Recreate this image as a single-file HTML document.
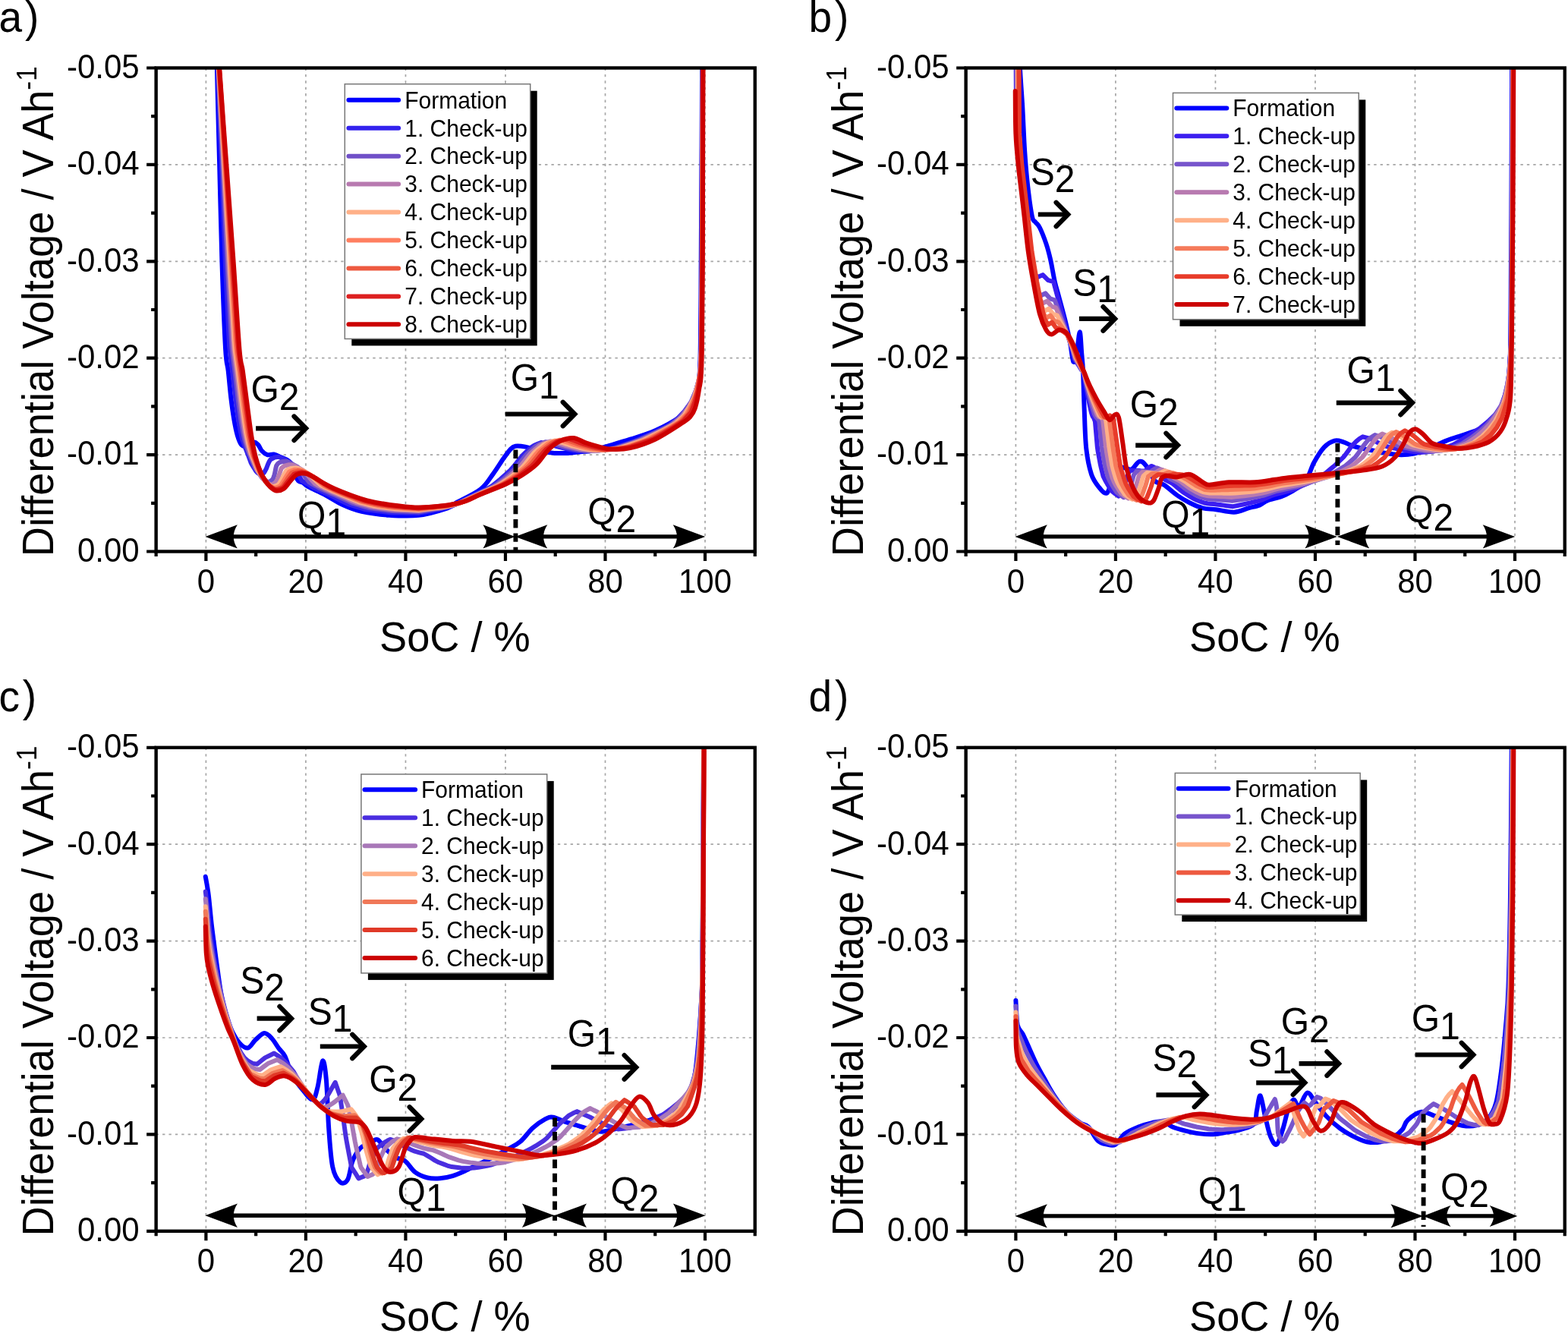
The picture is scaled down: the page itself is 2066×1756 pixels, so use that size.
<!DOCTYPE html>
<html><head><meta charset="utf-8"><title>Differential voltage analysis</title>
<style>html,body{margin:0;padding:0;background:#fff;width:2066px;height:1756px;overflow:hidden}svg{display:block}text{font-family:"Liberation Sans", Arial, Helvetica, sans-serif;fill:#000}</style></head><body>
<svg width="2066" height="1756" viewBox="0 0 2066 1756">
<rect width="2066" height="1756" fill="#fff"/>
<defs>
<clipPath id="clipa"><rect x="205.64" y="89.5" width="789.12" height="637"/></clipPath>
<clipPath id="clipb"><rect x="1272.64" y="89.5" width="789.12" height="637"/></clipPath>
<clipPath id="clipc"><rect x="205.64" y="984.8" width="789.12" height="637"/></clipPath>
<clipPath id="clipd"><rect x="1272.64" y="984.8" width="789.12" height="637"/></clipPath>
</defs>
<path d="M271.4,89.5 V726.5 M402.92,89.5 V726.5 M534.44,89.5 V726.5 M665.96,89.5 V726.5 M797.48,89.5 V726.5 M929,89.5 V726.5 M205.64,599.1 H994.76 M205.64,471.7 H994.76 M205.64,344.3 H994.76 M205.64,216.9 H994.76" stroke="#a6a6a6" stroke-width="1.7" stroke-dasharray="3.4 5" fill="none"/>
<g clip-path="url(#clipa)" fill="none" stroke-width="6" stroke-linejoin="round" stroke-linecap="round">
<path d="M285.87,64.02 C285.87,68.27 285.32,64.02 285.87,89.5 C286.42,114.98 288.06,174.43 289.16,216.9 C290.25,259.37 291.13,303.96 292.44,344.3 C293.76,384.64 295.68,434.97 297.05,458.96 C298.42,482.95 299.46,477.43 300.66,488.26 C301.87,499.09 303.02,513.32 304.28,523.93 C305.54,534.55 306.8,543.68 308.23,551.96 C309.65,560.24 311.13,567.89 312.83,573.62 C314.53,579.35 316.34,584.02 318.42,586.36 C320.5,588.7 322.64,588.27 325.32,587.63 C328.01,587 332.01,582.75 334.53,582.54 C337.05,582.33 338.69,584.45 340.45,586.36 C342.2,588.27 343.08,591.88 345.05,594 C347.02,596.13 349.65,598.36 352.28,599.1 C354.92,599.84 357.87,597.93 360.83,598.46 C363.79,598.99 366.64,600.69 370.04,602.28 C373.44,603.88 378.15,604.3 381.22,608.02 C384.29,611.73 386.48,620.33 388.45,624.58 C390.43,628.83 391.19,631.59 393.06,633.5 C394.92,635.41 397.44,634.77 399.63,636.05 C401.82,637.32 401.39,638.49 406.21,641.14 C411.03,643.8 420.89,647.94 428.57,651.97 C436.24,656.01 444.24,661.7 452.24,665.35 C460.24,669 466.49,671.65 476.57,673.88 C486.65,676.11 500.24,677.9 512.74,678.73 C525.23,679.55 538.71,680.42 551.54,678.85 C564.36,677.28 581.57,671.97 589.68,669.3 C597.79,666.62 592.97,666.92 600.2,662.8 C607.43,658.68 624.86,650.95 633.08,644.58 C641.3,638.21 644.59,631.16 649.52,624.58 C654.45,618 658.84,610.54 662.67,605.09 C666.51,599.63 669.8,594.73 672.54,591.84 C675.28,588.95 675.82,588.29 679.11,587.76 C682.4,587.23 687.88,587.89 692.26,588.65 C696.65,589.42 700.05,591.1 705.42,592.35 C710.79,593.6 720.1,595.41 724.49,596.17 C728.87,596.93 727.77,596.81 731.72,596.93 C735.67,597.06 742.68,597.21 748.16,596.93 C753.64,596.66 759.12,595.83 764.6,595.28 C770.08,594.73 775.56,594.73 781.04,593.62 C786.52,592.52 789.26,591.14 797.48,588.65 C805.7,586.17 819.4,582.28 830.36,578.72 C841.32,575.15 852.28,572.18 863.24,567.25 C874.2,562.32 888.45,554.36 896.12,549.16 C903.79,543.96 905.44,542.09 909.27,536.04 C913.11,529.99 916.94,522.19 919.14,512.85 C921.33,503.51 921.66,508.07 922.42,479.98 C923.19,451.89 923.3,409.38 923.74,344.3 C924.18,279.22 924.78,136.21 925.05,89.5 C925.33,42.79 925.33,68.27 925.38,64.02" stroke="#0000FF"/>
<path d="M286.6,64.02 286.7,77.59 286.86,91.16 287.39,104.72 287.92,118.28 288.45,131.84 288.98,145.4 289.51,158.96 290.04,172.52 290.57,186.08 291.1,199.65 291.63,213.21 292.16,226.77 292.69,240.33 293.22,253.89 293.75,267.45 294.28,281.01 294.81,294.57 295.34,308.13 295.87,321.69 296.4,335.25 296.94,348.81 297.59,362.37 298.24,375.92 298.9,389.48 299.55,403.04 300.2,416.59 300.85,430.15 301.51,443.71 302.28,457.25 303.78,470.73 305.53,484.19 307.13,497.66 308.62,511.16 310.1,524.65 311.89,538.1 313.76,551.54 316.11,564.9 318.94,578.17 323.59,590.85 324.89,594.11 326.12,597.3 327.29,600.42 328.42,603.49 329.52,606.51 330.6,609.48 332.09,612.22 333.7,614.87 335.32,617.53 336.96,620.22 338.99,622.58 341.84,624.22 344.77,625.95 346.54,624.11 348.19,622.18 349.54,619.89 350.77,617.54 351.74,615.09 352.67,612.69 353.59,610.34 354.92,607.71 356.46,605.27 361.88,602.48 367.07,601.79 372.4,604.04 377.62,606.59 382.8,609.29 386.66,613.25 389.29,618.37 391.97,623.44 394.82,628.43 397.86,633.3 402.69,636.18 407.83,638.94 412.67,642.2 418.01,644.64 423.34,647.07 428.65,649.48 433.95,651.85 439.12,654.43 444.26,657.02 449.37,659.59 454.47,662.13 459.62,664.47 465.04,666.13 470.43,667.77 475.8,669.39 481.14,671.01 486.63,671.86 492.13,672.54 497.61,673.2 503.06,673.87 508.49,674.53 513.89,675.16 519.3,675.43 524.71,675.5 530.1,675.57 535.47,675.66 540.83,675.75 546.19,675.85 551.54,675.96 556.11,675.1 560.68,674.22 565.26,673.35 569.85,672.47 574.46,671.59 579.07,670.71 583.69,669.7 588.3,668.58 592.94,667.46 597.39,665.85 601.67,663.75 605.91,661.44 610.22,659.2 614.58,657 618.99,654.85 623.42,652.71 627.88,650.56 632.37,648.42 636.88,646.27 641.41,644.11 645.89,641.78 649.96,638.92 653.82,635.79 657.72,632.66 661.5,629.33 665.26,625.93 669.03,622.53 672.72,619.07 676.08,615.28 679.27,611.3 682.45,607.32 685.61,603.34 688.87,599.46 692.56,596.04 696.24,592.63 699.9,589.24 703.88,586.66 708.4,584.8 712.97,583.05 716.05,583.62 719.14,584.2 722.22,584.77 725.29,585.47 728.3,586.45 731.32,587.43 734.35,588.38 737.42,589.17 740.51,589.89 743.6,590.61 746.69,591.33 749.78,592.05 752.87,592.75 756,593.23 759.15,593.65 762.3,593.89 765.45,594.12 768.6,594.35 771.76,594.58 789.38,593.31 805.25,591.22 820.51,586.3 835.69,581.22 850.33,575.06 864.85,568.57 879.13,561.73 891.57,552.47 901.77,541.76 910.52,529.64 916.58,515.57 921.04,500.39 922.24,484.48 923.28,468.53 923.45,452.52 923.6,436.49 923.74,420.46 923.88,404.41 924.03,388.36 924.17,372.28 924.31,356.19 924.42,340.09 924.48,323.96 924.54,307.82 924.6,291.67 924.66,275.5 924.72,259.31 924.79,243.1 924.85,226.88 924.91,210.64 924.98,194.39 925.05,178.13 925.11,161.85 925.18,145.56 925.25,129.27 925.32,112.96 925.39,96.65 925.52,80.34 925.7,64.02" stroke="#3322EE"/>
<path d="M287.05,64.02 287.21,77.66 287.44,91.3 288.08,104.93 288.72,118.55 289.36,132.18 290,145.8 290.64,159.43 291.29,173.05 291.93,186.68 292.57,200.3 293.21,213.93 293.85,227.55 294.49,241.18 295.13,254.8 295.77,268.43 296.41,282.05 297.05,295.68 297.69,309.3 298.34,322.93 298.98,336.56 299.62,350.18 300.34,363.81 301.06,377.43 301.78,391.05 302.5,404.68 303.22,418.3 303.94,431.92 304.66,445.55 305.58,459.15 307.22,472.68 309.04,486.2 310.69,499.74 312.25,513.3 313.82,526.85 315.62,540.37 317.49,553.89 319.74,567.34 322.54,580.68 326.73,593.58 328.11,597.04 329.06,599.37 330.03,601.73 331.02,604.11 332.02,606.51 333.04,608.93 334.07,611.37 335.11,613.82 336.2,616.26 337.72,618.49 339.24,620.72 340.75,622.95 342.27,625.18 343.78,627.4 345.27,629.6 347.2,631.33 349.39,632.74 351.56,634.13 353.69,635.49 355.94,634.21 358.59,632.23 360.03,630.13 360.97,627.5 361.76,624.87 362.33,622.22 362.84,619.67 363.47,616.42 364.21,613.48 365.94,611.07 367.82,609.36 372.57,607.99 377.4,607.86 382.32,609.99 387.11,612.43 391.87,614.97 395.63,618.48 398.47,622.84 401.37,627.13 404.4,631.35 407.57,635.49 412.11,638.09 416.91,640.54 421.49,643.38 426.44,645.59 431.38,647.8 436.31,649.99 441.25,652.12 446.09,654.38 450.91,656.65 455.71,658.91 460.5,661.15 465.34,663.23 470.4,664.69 475.45,666.13 480.47,667.56 485.48,668.98 490.6,669.82 495.74,670.5 500.87,671.14 505.97,671.78 511.06,672.43 516.13,673 521.22,673.29 526.29,673.43 531.36,673.57 536.41,673.72 541.46,673.88 546.5,674.04 551.54,674.21 556.42,673.44 561.31,672.66 566.2,671.88 571.09,671.11 575.99,670.33 580.89,669.55 585.78,668.57 590.64,667.43 595.52,666.28 600.24,664.76 604.79,662.73 609.25,660.41 613.75,658.14 618.28,655.9 622.85,653.74 627.45,651.6 632.06,649.45 636.67,647.31 641.3,645.16 645.94,643.01 650.48,640.63 654.67,637.8 658.69,634.74 662.72,631.68 666.59,628.37 670.42,624.97 674.25,621.57 678.01,618.12 681.39,614.28 684.57,610.23 687.74,606.18 690.9,602.13 694.19,598.2 697.97,594.8 701.76,591.42 705.54,588.03 709.71,585.61 714.39,583.86 719.12,582.2 722.12,582.83 725.11,583.46 728.11,584.09 731.09,584.84 734.02,585.82 736.96,586.8 739.91,587.74 742.9,588.52 745.92,589.24 748.93,589.97 751.94,590.69 754.95,591.41 757.97,592.12 761.02,592.62 764.08,593.06 767.15,593.33 770.23,593.6 773.3,593.88 776.37,594.15 793.87,592.95 809.65,590.8 824.85,585.84 839.96,580.71 854.45,574.28 868.84,567.56 882.93,560.4 895.01,550.75 904.37,539.39 912.25,526.73 917.6,512.39 921.59,497.12 922.63,481.22 923.53,465.29 923.7,449.31 923.85,433.33 924,417.34 924.15,401.35 924.3,385.35 924.45,369.35 924.59,353.34 924.69,337.32 924.76,321.3 924.81,305.26 924.87,289.22 924.93,273.18 924.99,257.12 925.05,241.06 925.12,224.99 925.18,208.92 925.24,192.83 925.3,176.75 925.36,160.65 925.43,144.56 925.49,128.45 925.55,112.35 925.62,96.24 925.73,80.13 925.89,64.02" stroke="#7050C8"/>
<path d="M287.37,64.02 287.57,77.71 287.85,91.4 288.57,105.07 289.29,118.74 290.01,132.41 290.73,146.08 291.45,159.75 292.16,173.43 292.88,187.1 293.6,200.77 294.32,214.44 295.04,228.11 295.76,241.78 296.48,255.45 297.2,269.12 297.92,282.79 298.64,296.46 299.36,310.14 300.08,323.81 300.8,337.48 301.5,351.15 302.27,364.82 303.04,378.49 303.81,392.16 304.58,405.83 305.35,419.5 306.12,433.17 306.89,446.85 307.9,460.49 309.65,474.06 311.51,487.62 313.2,501.21 314.82,514.81 316.44,528.4 318.26,541.98 320.12,555.54 322.3,569.05 325.09,582.46 328.95,595.51 329.87,597.87 330.82,600.26 331.79,602.68 332.8,605.13 333.82,607.61 334.86,610.11 335.91,612.63 336.98,615.17 338.05,617.73 339.44,620.14 341.04,622.45 342.64,624.76 344.24,627.07 345.83,629.37 347.41,631.66 349.11,633.78 351.36,635.3 353.6,636.77 355.81,638.21 358.66,638.13 361.15,636.81 363.43,635.35 364.91,632.84 366.1,630.08 367.15,627.32 368.05,624.58 368.95,621.97 369.83,619.44 370.72,617 372.67,615.14 374.99,613.59 380.83,612.25 385.38,612.55 389.97,614.58 394.43,616.93 398.86,619.35 402.54,622.5 405.53,626.29 408.58,629.96 411.73,633.59 414.99,637.15 419.29,639.54 423.82,641.76 428.17,644.27 432.81,646.31 437.44,648.35 442.07,650.37 446.71,652.32 451.3,654.35 455.86,656.38 460.42,658.41 464.96,660.42 469.55,662.32 474.33,663.64 479.11,664.93 483.88,666.22 488.64,667.5 493.48,668.34 498.35,669.02 503.21,669.65 508.06,670.29 512.9,670.92 517.73,671.46 522.58,671.77 527.42,671.96 532.25,672.15 537.08,672.35 541.9,672.55 546.72,672.76 551.54,672.97 556.64,672.26 561.75,671.56 566.86,670.85 571.97,670.14 577.08,669.43 582.2,668.72 587.28,667.76 592.33,666.59 597.39,665.42 602.32,663.96 607.08,661.99 611.71,659.65 616.38,657.35 621.07,655.08 625.8,652.9 630.55,650.75 635.3,648.59 640.06,646.44 644.82,644.28 649.59,642.13 654.22,639.69 658.57,636.87 662.77,633.86 666.97,630.86 670.98,627.55 674.93,624.13 678.88,620.72 682.77,617.26 686.25,613.38 689.48,609.24 692.71,605.11 695.94,600.97 699.31,596.99 703.24,593.6 707.18,590.22 711.11,586.85 715.52,584.58 720.37,582.92 725.28,581.34 728.18,582.03 731.09,582.72 733.99,583.41 736.88,584.2 739.74,585.18 742.6,586.16 745.47,587.1 748.39,587.88 751.32,588.6 754.26,589.33 757.19,590.05 760.12,590.78 763.06,591.49 766.03,592.01 769.02,592.46 772.01,592.78 775,593.09 778,593.41 780.99,593.72 798.36,592.6 814.03,590.37 829.14,585.4 844.15,580.21 858.45,573.52 872.67,566.58 886.56,559.14 898.24,549.13 906.77,537.19 913.83,524.08 918.52,509.53 922.07,494.21 922.98,478.37 923.74,462.5 923.91,446.59 924.06,430.68 924.22,414.77 924.37,398.86 924.52,382.94 924.67,367.02 924.81,351.1 924.9,335.17 924.96,319.25 925.02,303.31 925.08,287.38 925.14,271.44 925.19,255.5 925.25,239.56 925.31,223.61 925.37,207.66 925.43,191.71 925.48,175.75 925.54,159.8 925.6,143.84 925.66,127.87 925.72,111.91 925.78,95.95 925.88,79.98 926.02,64.02" stroke="#B87AB0"/>
<path d="M287.63,64.02 287.87,77.75 288.19,91.48 288.98,105.19 289.76,118.9 290.54,132.61 291.33,146.32 292.11,160.03 292.9,173.74 293.68,187.45 294.47,201.15 295.25,214.86 296.04,228.57 296.82,242.28 297.6,255.99 298.39,269.7 299.17,283.41 299.96,297.12 300.74,310.83 301.53,324.54 302.31,338.25 303.08,351.96 303.89,365.67 304.7,379.38 305.51,393.09 306.31,406.8 307.12,420.51 307.93,434.22 308.74,447.93 309.84,461.6 311.68,475.21 313.58,488.81 315.3,502.44 316.96,516.07 318.63,529.7 320.45,543.31 322.31,556.92 324.44,570.48 327.2,583.93 330.8,597.12 331.72,599.53 332.68,601.98 333.67,604.46 334.68,606.97 335.72,609.51 336.77,612.08 337.84,614.67 338.93,617.28 340.02,619.91 341.45,622.38 343.1,624.74 344.76,627.11 346.41,629.47 348.06,631.82 349.69,634.16 351.47,636.31 353.77,637.88 356.06,639.4 358.31,640.88 361.37,640.86 364.2,639.65 366.88,638.34 368.71,635.83 370.27,633.05 371.72,630.27 373.09,627.51 374.49,624.89 375.88,622.32 377.28,619.81 380.06,618.23 383.17,616.99 389.09,616.52 393.35,617.23 397.62,619.16 401.73,621.41 405.82,623.71 409.39,626.49 412.51,629.69 415.7,632.75 418.94,635.79 422.26,638.79 426.3,640.96 430.52,642.94 434.63,645.14 438.94,647 443.24,648.87 447.55,650.74 451.88,652.51 456.19,654.31 460.49,656.13 464.78,657.94 469.08,659.75 473.4,661.48 477.91,662.68 482.42,663.85 486.93,665.02 491.44,666.19 496.02,667.04 500.63,667.72 505.25,668.36 509.86,668.99 514.47,669.63 519.1,670.14 523.73,670.48 528.37,670.72 533,670.96 537.64,671.2 542.27,671.45 546.91,671.69 551.54,671.94 556.83,671.29 562.12,670.63 567.41,669.98 572.71,669.33 578,668.67 583.29,668.02 588.54,667.08 593.76,665.89 598.98,664.7 604.1,663.28 609.04,661.35 613.84,658.99 618.66,656.66 623.49,654.36 628.38,652.16 633.27,649.99 638.17,647.83 643.07,645.66 647.97,643.49 652.88,641.33 657.63,638.84 662.14,636.02 666.53,633.05 670.92,630.09 675.09,626.78 679.18,623.34 683.27,619.9 687.32,616.44 690.92,612.51 694.23,608.29 697.55,604.07 700.87,599.85 704.35,595.8 708.45,592.42 712.56,589.04 716.67,585.66 721.31,583.54 726.35,581.98 731.43,580.48 734.25,581.23 737.06,581.99 739.88,582.74 742.68,583.56 745.46,584.55 748.23,585.53 751.03,586.46 753.87,587.23 756.73,587.96 759.58,588.69 762.44,589.42 765.29,590.14 768.15,590.86 771.04,591.4 773.95,591.87 776.87,592.22 779.78,592.58 782.69,592.93 785.61,593.29 802.84,592.24 818.41,589.95 833.42,584.95 848.32,579.71 862.42,572.77 876.45,565.62 890.1,557.91 901.38,547.56 909.1,535.06 915.35,521.53 919.4,506.8 922.54,491.45 923.3,475.68 923.94,459.88 924.11,444.06 924.26,428.24 924.41,412.41 924.57,396.58 924.72,380.76 924.87,364.93 925.01,349.1 925.09,333.27 925.15,317.44 925.2,301.61 925.26,285.78 925.31,269.94 925.37,254.11 925.42,238.27 925.48,222.43 925.53,206.59 925.58,190.76 925.64,174.92 925.69,159.07 925.75,143.23 925.8,127.39 925.86,111.55 925.91,95.71 926.01,79.86 926.13,64.02" stroke="#FFB088"/>
<path d="M287.87,64.02 288.14,77.79 288.5,91.55 289.34,105.3 290.18,119.04 291.03,132.78 291.87,146.53 292.71,160.27 293.56,174.02 294.4,187.76 295.24,201.5 296.09,215.25 296.93,228.99 297.77,242.73 298.62,256.48 299.46,270.22 300.3,283.96 301.15,297.71 301.99,311.45 302.83,325.2 303.68,338.94 304.49,352.68 305.34,366.43 306.18,380.18 307.03,393.92 307.88,407.67 308.72,421.41 309.57,435.16 310.41,448.9 311.59,462.61 313.5,476.24 315.44,489.88 317.18,503.54 318.89,517.2 320.6,530.87 322.43,544.52 324.28,558.16 326.36,571.77 329.11,585.26 332.46,598.56 333.38,601.02 334.34,603.51 335.31,606.02 336.31,608.57 337.33,611.13 338.37,613.72 339.42,616.33 340.48,618.96 341.54,621.6 342.96,624.07 344.62,626.43 346.27,628.79 347.93,631.14 349.58,633.49 351.22,635.83 353.02,637.97 355.33,639.54 357.63,641.08 359.9,642.58 363.1,642.6 366.13,641.45 369.05,640.21 371.07,637.69 372.84,634.88 374.52,632.07 376.14,629.29 377.82,626.64 379.49,624.03 381.17,621.48 383.57,620.34 386.18,619.51 388.91,618.74 393.95,619.02 398.05,619.99 402.13,621.87 406.06,624.07 409.97,626.3 413.51,628.88 416.72,631.75 420.03,634.46 423.38,637.14 426.77,639.8 430.69,641.85 434.78,643.69 438.78,645.69 442.92,647.46 447.06,649.22 451.21,650.98 455.39,652.64 459.55,654.29 463.72,655.95 467.88,657.61 472.04,659.27 476.23,660.87 480.58,661.96 484.93,663.03 489.29,664.1 493.64,665.17 498.05,666 502.48,666.68 506.92,667.3 511.37,667.92 515.81,668.53 520.27,669.02 524.73,669.36 529.2,669.63 533.67,669.91 538.14,670.18 542.6,670.46 547.07,670.73 551.54,671.01 557,670.41 562.45,669.8 567.91,669.2 573.37,668.6 578.83,667.99 584.28,667.39 589.69,666.46 595.06,665.25 600.43,664.03 605.72,662.65 610.84,660.77 615.79,658.39 620.76,656.03 625.74,653.69 630.77,651.48 635.81,649.3 640.86,647.11 645.9,644.93 650.95,642.75 655.99,640.57 660.87,638.03 665.54,635.21 670.13,632.28 674.72,629.35 679.05,626.03 683.3,622.57 687.55,619.12 691.77,615.63 695.49,611.65 698.91,607.34 702.33,603.04 705.75,598.73 709.35,594.62 713.63,591.23 717.92,587.86 722.21,584.48 727.1,582.5 732.32,581.05 737.59,579.63 740.31,580.44 743.04,581.25 745.76,582.06 748.48,582.93 751.18,583.91 753.87,584.9 756.59,585.82 759.36,586.59 762.14,587.32 764.91,588.05 767.69,588.78 770.47,589.51 773.24,590.23 776.06,590.79 778.89,591.27 781.72,591.67 784.56,592.07 787.39,592.46 790.22,592.86 807.33,591.88 822.78,589.53 837.68,584.51 852.47,579.22 866.36,572.02 880.2,564.67 893.61,556.69 904.48,546.01 911.39,532.97 916.84,519.02 920.25,504.12 922.99,488.77 923.62,473.07 924.13,457.36 924.3,441.63 924.45,425.89 924.6,410.16 924.75,394.43 924.91,378.69 925.06,362.96 925.2,347.23 925.27,331.49 925.32,315.76 925.37,300.03 925.42,284.29 925.47,268.56 925.52,252.82 925.58,237.09 925.63,221.36 925.68,205.62 925.73,189.89 925.78,174.16 925.83,158.42 925.88,142.69 925.93,126.95 925.98,111.22 926.03,95.49 926.12,79.75 926.23,64.02" stroke="#FF7F60"/>
<path d="M288.08,64.02 288.38,77.82 288.77,91.62 289.67,105.39 290.56,119.17 291.46,132.94 292.35,146.72 293.25,160.49 294.14,174.26 295.04,188.04 295.93,201.81 296.83,215.59 297.73,229.36 298.62,243.13 299.52,256.91 300.41,270.68 301.31,284.46 302.2,298.23 303.1,312.01 303.99,325.78 304.89,339.55 305.75,353.33 306.63,367.11 307.51,380.88 308.39,394.66 309.26,408.44 310.14,422.21 311.02,435.99 311.9,449.77 313.14,463.5 315.12,477.16 317.09,490.82 318.85,504.51 320.6,518.21 322.35,531.9 324.18,545.58 326.03,559.26 328.07,572.91 330.8,586.44 333.94,599.84 334.86,602.34 335.81,604.87 336.78,607.41 337.76,609.98 338.77,612.57 339.78,615.17 340.81,617.79 341.84,620.43 342.88,623.08 344.29,625.55 345.94,627.9 347.59,630.25 349.25,632.6 350.9,634.94 352.54,637.27 354.35,639.4 356.67,640.97 358.98,642.52 361.26,644.03 364.57,644.09 367.78,642.98 370.89,641.8 373.07,639.26 374.98,636.41 376.84,633.56 378.65,630.75 380.54,628.07 382.42,625.43 384.31,622.82 386.98,621.77 389.86,621.05 392.85,620.37 397.84,621.03 401.81,622.21 405.76,624.04 409.53,626.2 413.3,628.39 416.82,630.81 420.13,633.41 423.54,635.83 426.97,638.24 430.44,640.63 434.28,642.57 438.26,644.31 442.18,646.15 446.2,647.83 450.22,649.51 454.24,651.19 458.31,652.75 462.37,654.27 466.43,655.8 470.49,657.33 474.55,658.86 478.63,660.35 482.85,661.35 487.08,662.33 491.31,663.3 495.54,664.28 499.8,665.09 504.09,665.77 508.39,666.37 512.69,666.97 516.98,667.57 521.29,668.02 525.61,668.37 529.94,668.67 534.26,668.97 538.58,669.28 542.9,669.58 547.22,669.88 551.54,670.18 557.14,669.62 562.75,669.06 568.35,668.5 573.96,667.94 579.57,667.38 585.17,666.83 590.72,665.9 596.23,664.67 601.73,663.44 607.19,662.09 612.47,660.24 617.57,657.84 622.68,655.45 627.8,653.08 632.97,650.85 638.17,648.65 643.36,646.45 648.55,644.25 653.74,642.05 658.93,639.85 663.93,637.26 668.78,634.43 673.57,631.54 678.37,628.64 682.88,625.31 687.3,621.83 691.71,618.35 696.11,614.85 699.98,610.81 703.51,606.42 707.04,602.02 710.58,597.62 714.31,593.45 718.78,590.06 723.26,586.68 727.74,583.3 732.88,581.47 738.3,580.11 743.74,578.77 746.38,579.64 749.01,580.51 751.65,581.38 754.28,582.29 756.89,583.28 759.51,584.26 762.15,585.19 764.84,585.94 767.54,586.67 770.24,587.41 772.94,588.14 775.64,588.87 778.34,589.6 781.07,590.18 783.82,590.67 786.58,591.11 789.33,591.55 792.09,591.99 794.84,592.43 811.81,591.53 827.14,589.1 841.94,584.06 856.6,578.72 870.27,571.27 883.91,563.73 897.09,555.48 907.54,544.48 913.64,530.91 918.31,516.57 921.09,501.52 923.43,486.16 923.93,470.55 924.32,454.92 924.48,439.29 924.63,423.65 924.78,408.02 924.93,392.38 925.08,376.75 925.23,361.11 925.37,345.47 925.43,329.84 925.48,314.2 925.53,298.57 925.57,282.93 925.62,267.29 925.67,251.66 925.72,236.02 925.76,220.38 925.81,204.75 925.86,189.11 925.9,173.47 925.95,157.84 926,142.2 926.05,126.57 926.09,110.93 926.14,95.29 926.22,79.66 926.32,64.02" stroke="#EE5A40"/>
<path d="M288.29,64.02 288.62,77.85 289.04,91.68 289.99,105.49 290.94,119.29 291.89,133.1 292.83,146.9 293.78,160.71 294.73,174.51 295.68,188.32 296.63,202.12 297.57,215.93 298.52,229.73 299.47,243.54 300.42,257.34 301.36,271.15 302.31,284.95 303.26,298.76 304.21,312.56 305.15,326.36 306.1,340.17 307.01,353.98 307.92,367.78 308.83,381.59 309.74,395.4 310.65,409.21 311.56,423.02 312.47,436.82 313.38,450.63 314.69,464.4 316.74,478.08 318.74,491.77 320.53,505.49 322.31,519.22 324.09,532.94 325.94,546.65 327.79,560.37 329.78,574.06 332.5,587.63 335.42,601.13 336.34,603.67 337.27,606.22 338.22,608.78 339.17,611.35 340.14,613.94 341.11,616.54 342.09,619.14 343.07,621.76 344.05,624.38 345.42,626.81 347.03,629.11 348.65,631.42 350.27,633.72 351.88,636.02 353.49,638.32 355.29,640.4 357.59,641.95 359.89,643.49 362.17,645.01 365.57,645.09 368.92,644.04 372.23,642.96 374.62,640.48 376.77,637.68 378.89,634.89 381,632.12 383.22,629.48 385.44,626.86 387.66,624.26 390.71,623.34 393.96,622.76 397.27,622.21 402.21,623.29 406.05,624.69 409.82,626.48 413.43,628.6 417.03,630.73 420.52,632.97 423.92,635.26 427.43,637.36 430.95,639.45 434.49,641.54 438.22,643.37 442.08,644.98 445.9,646.64 449.78,648.23 453.65,649.82 457.52,651.4 461.44,652.86 465.38,654.25 469.32,655.64 473.26,657.03 477.2,658.43 481.15,659.8 485.23,660.71 489.32,661.6 493.41,662.48 497.5,663.36 501.6,664.17 505.74,664.83 509.88,665.42 514.03,666.01 518.17,666.6 522.33,667.02 526.51,667.38 530.68,667.71 534.85,668.04 539.02,668.37 543.19,668.7 547.37,669.03 551.54,669.36 557.29,668.84 563.04,668.33 568.8,667.81 574.55,667.29 580.31,666.78 586.06,666.26 591.75,665.35 597.4,664.09 603.04,662.84 608.66,661.53 614.1,659.7 619.35,657.29 624.61,654.87 629.86,652.47 635.18,650.21 640.52,648 645.86,645.78 651.19,643.57 656.53,641.36 661.87,639.14 667,636.49 672.02,633.66 677.02,630.8 682.01,627.93 686.7,624.59 691.29,621.09 695.87,617.58 700.45,614.07 704.47,609.97 708.11,605.49 711.76,601 715.4,596.52 719.27,592.27 723.93,588.89 728.6,585.5 733.27,582.12 738.66,580.43 744.27,579.17 749.9,577.92 752.44,578.85 754.99,579.78 757.53,580.71 760.08,581.65 762.61,582.64 765.15,583.63 767.71,584.55 770.33,585.29 772.95,586.03 775.57,586.77 778.19,587.5 780.81,588.24 783.43,588.97 786.08,589.57 788.76,590.08 791.43,590.56 794.11,591.04 796.78,591.52 799.46,592 816.3,591.17 831.51,588.68 846.2,583.62 860.74,578.23 874.19,570.53 887.63,562.78 900.56,554.27 910.61,542.94 915.89,528.85 919.77,514.12 921.93,498.91 923.86,483.55 924.23,468.02 924.5,452.49 924.66,436.95 924.81,421.41 924.96,405.88 925.11,390.34 925.26,374.8 925.41,359.26 925.54,343.72 925.59,328.18 925.64,312.64 925.68,297.11 925.73,281.57 925.77,266.03 925.81,250.49 925.86,234.95 925.9,219.41 925.94,203.87 925.99,188.33 926.03,172.79 926.07,157.25 926.12,141.71 926.16,126.18 926.2,110.64 926.25,95.1 926.32,79.56 926.41,64.02" stroke="#DD2020"/>
<path d="M288.5,64.02 C288.61,68.27 287.51,64.02 289.16,89.5 C290.8,114.98 295.29,174.43 298.36,216.9 C301.43,259.37 304.72,303.74 307.57,344.3 C310.42,384.86 313.42,436.24 315.46,460.23 C317.5,484.23 318.12,476.37 319.8,488.26 C321.48,500.15 323.62,517.35 325.52,531.58 C327.42,545.8 329.28,561.81 331.18,573.62 C333.07,585.43 334.51,593.58 336.9,602.41 C339.29,611.25 342.43,620.23 345.51,626.62 C348.59,633.01 352.3,637.45 355.38,640.76 C358.46,644.07 360.9,646 363.99,646.49 C367.08,646.98 370.83,645.81 373.92,643.69 C377.01,641.57 379.68,636.85 382.53,633.75 C385.38,630.65 387.71,626.77 391.02,625.09 C394.33,623.41 398.83,623.2 402.39,623.69 C405.96,624.18 408.36,625.88 412.39,628.02 C416.42,630.16 421.86,633.94 426.59,636.56 C431.33,639.17 434.88,641.08 440.8,643.69 C446.72,646.3 454.94,649.61 462.1,652.23 C469.27,654.84 476.68,657.47 483.8,659.36 C490.93,661.25 498.82,662.5 504.85,663.56 C510.88,664.63 512.19,664.9 519.97,665.73 C527.75,666.56 539.92,668.58 551.54,668.53 C563.16,668.49 579.38,666.86 589.68,665.48 C599.98,664.1 606.12,662.61 613.35,660.25 C620.59,657.9 624.31,655.05 633.08,651.33 C641.85,647.62 656.97,642.1 665.96,637.96 C674.95,633.82 680.21,630.84 687,626.49 C693.8,622.14 700.7,617.62 706.73,611.84 C712.76,606.06 717.69,597.08 723.17,591.84 C728.65,586.59 734.13,582.84 739.61,580.37 C745.09,577.91 750.57,576.51 756.05,577.06 C761.53,577.61 766.9,581.75 772.49,583.68 C778.08,585.62 784.11,587.29 789.59,588.65 C795.07,590.01 798.58,591.58 805.37,591.84 C812.17,592.09 820.72,592.37 830.36,590.18 C840,587.99 852.28,583.92 863.24,578.72 C874.2,573.51 888.45,563.9 896.12,558.97 C903.79,554.04 905.98,552.73 909.27,549.16 C912.56,545.59 913.88,543.62 915.85,537.57 C917.82,531.51 919.68,522.45 921.11,512.85 C922.53,503.25 923.63,508.07 924.4,479.98 C925.16,451.89 925.38,409.38 925.71,344.3 C926.04,279.22 926.24,136.21 926.37,89.5 C926.5,42.79 926.48,68.27 926.5,64.02" stroke="#CC0000"/>
</g>
<rect x="463.3" y="119.7" width="244.4" height="335.7" fill="#000"/>
<rect x="454.3" y="110.7" width="244.4" height="335.7" fill="#fff" stroke="#777" stroke-width="1.5"/>
<path d="M459.4,131.8 H525.1" stroke="#0000FF" stroke-width="6" stroke-linecap="round"/>
<text transform="matrix(1,0,0,1.04,533.2,142.6)" font-size="30">Formation</text>
<path d="M459.4,168.74 H525.1" stroke="#3322EE" stroke-width="6" stroke-linecap="round"/>
<text transform="matrix(1,0,0,1.04,533.2,179.54)" font-size="30">1. Check-up</text>
<path d="M459.4,205.68 H525.1" stroke="#7050C8" stroke-width="6" stroke-linecap="round"/>
<text transform="matrix(1,0,0,1.04,533.2,216.48)" font-size="30">2. Check-up</text>
<path d="M459.4,242.62 H525.1" stroke="#B87AB0" stroke-width="6" stroke-linecap="round"/>
<text transform="matrix(1,0,0,1.04,533.2,253.42)" font-size="30">3. Check-up</text>
<path d="M459.4,279.56 H525.1" stroke="#FFB088" stroke-width="6" stroke-linecap="round"/>
<text transform="matrix(1,0,0,1.04,533.2,290.36)" font-size="30">4. Check-up</text>
<path d="M459.4,316.5 H525.1" stroke="#FF7F60" stroke-width="6" stroke-linecap="round"/>
<text transform="matrix(1,0,0,1.04,533.2,327.3)" font-size="30">5. Check-up</text>
<path d="M459.4,353.44 H525.1" stroke="#EE5A40" stroke-width="6" stroke-linecap="round"/>
<text transform="matrix(1,0,0,1.04,533.2,364.24)" font-size="30">6. Check-up</text>
<path d="M459.4,390.38 H525.1" stroke="#DD2020" stroke-width="6" stroke-linecap="round"/>
<text transform="matrix(1,0,0,1.04,533.2,401.18)" font-size="30">7. Check-up</text>
<path d="M459.4,427.32 H525.1" stroke="#CC0000" stroke-width="6" stroke-linecap="round"/>
<text transform="matrix(1,0,0,1.04,533.2,438.12)" font-size="30">8. Check-up</text>
<text transform="matrix(1,0,0,1.04,330.5,530)" font-size="48">G<tspan dy="9.81">2</tspan></text>
<text transform="matrix(1,0,0,1.04,672.7,515)" font-size="48">G<tspan dy="9.42">1</tspan></text>
<text transform="matrix(1,0,0,1.04,392.1,695.6)" font-size="48">Q<tspan dy="9.04">1</tspan></text>
<text transform="matrix(1,0,0,1.04,774.3,690.8)" font-size="48">Q<tspan dy="9.81">2</tspan></text>
<path d="M337.1,564.3 H403.1" stroke="#000" stroke-width="6.2" fill="none"/>
<path d="M387.5,548.5 L403.1,564.3 L387.5,580.1" stroke="#000" stroke-width="6.2" fill="none" stroke-linecap="round" stroke-linejoin="miter" stroke-miterlimit="8"/>
<path d="M665.7,545.5 H757.3" stroke="#000" stroke-width="6.2" fill="none"/>
<path d="M741.7,529.7 L757.3,545.5 L741.7,561.3" stroke="#000" stroke-width="6.2" fill="none" stroke-linecap="round" stroke-linejoin="miter" stroke-miterlimit="8"/>
<path d="M679.4,592.6 V726.5" stroke="#000" stroke-width="5.9" stroke-dasharray="11.4 6.9"/>
<path d="M291.4,706.9 H658.8 M698.8,706.9 H909.2" stroke="#000" stroke-width="5.4"/>
<path d="M270.4,706.9 L312.9,691.2 Q302.5,706.9 312.9,722.6 Z M678.8,706.9 L636.3,691.2 Q646.7,706.9 636.3,722.6 Z M678.8,706.9 L721.3,691.2 Q710.9,706.9 721.3,722.6 Z M929.2,706.9 L886.7,691.2 Q897.1,706.9 886.7,722.6 Z" fill="#000"/>
<rect x="205.64" y="89.5" width="789.12" height="637" fill="none" stroke="#000" stroke-width="4.4"/>
<path d="M205.64,726.5 V733 M271.4,726.5 V739 M337.16,726.5 V733 M402.92,726.5 V739 M468.68,726.5 V733 M534.44,726.5 V739 M600.2,726.5 V733 M665.96,726.5 V739 M731.72,726.5 V733 M797.48,726.5 V739 M863.24,726.5 V733 M929,726.5 V739 M994.76,726.5 V733 M205.64,726.5 H193.14 M205.64,662.8 H199.14 M205.64,599.1 H193.14 M205.64,535.4 H199.14 M205.64,471.7 H193.14 M205.64,408 H199.14 M205.64,344.3 H193.14 M205.64,280.6 H199.14 M205.64,216.9 H193.14 M205.64,153.2 H199.14 M205.64,89.5 H193.14" stroke="#000" stroke-width="4.2"/>
<text transform="matrix(1,0,0,1.04,271.4,780.5)" font-size="42" text-anchor="middle">0</text>
<text transform="matrix(1,0,0,1.04,402.92,780.5)" font-size="42" text-anchor="middle">20</text>
<text transform="matrix(1,0,0,1.04,534.44,780.5)" font-size="42" text-anchor="middle">40</text>
<text transform="matrix(1,0,0,1.04,665.96,780.5)" font-size="42" text-anchor="middle">60</text>
<text transform="matrix(1,0,0,1.04,797.48,780.5)" font-size="42" text-anchor="middle">80</text>
<text transform="matrix(1,0,0,1.04,929,780.5)" font-size="42" text-anchor="middle">100</text>
<text transform="matrix(1,0,0,1.04,183.64,739.8)" font-size="42" text-anchor="end">0.00</text>
<text transform="matrix(1,0,0,1.04,183.64,612.4)" font-size="42" text-anchor="end">-0.01</text>
<text transform="matrix(1,0,0,1.04,183.64,485)" font-size="42" text-anchor="end">-0.02</text>
<text transform="matrix(1,0,0,1.04,183.64,357.6)" font-size="42" text-anchor="end">-0.03</text>
<text transform="matrix(1,0,0,1.04,183.64,230.2)" font-size="42" text-anchor="end">-0.04</text>
<text transform="matrix(1,0,0,1.04,183.64,102.8)" font-size="42" text-anchor="end">-0.05</text>
<text transform="matrix(1,0,0,1.04,599.4,858)" font-size="54.2" text-anchor="middle">SoC / %</text>
<text transform="translate(70.34,410.2) rotate(-90) scale(1,1.04)" font-size="54.3" text-anchor="middle">Differential Voltage / V Ah<tspan font-size="35.5" dy="-21.44">-1</tspan></text>
<text transform="matrix(1,0,0,1.04,-1.5,41.7)" font-size="55">a<tspan dx="3.8">)</tspan></text>
<path d="M1338.4,89.5 V726.5 M1469.92,89.5 V726.5 M1601.44,89.5 V726.5 M1732.96,89.5 V726.5 M1864.48,89.5 V726.5 M1996,89.5 V726.5 M1272.64,599.1 H2061.76 M1272.64,471.7 H2061.76 M1272.64,344.3 H2061.76 M1272.64,216.9 H2061.76" stroke="#a6a6a6" stroke-width="1.7" stroke-dasharray="3.4 5" fill="none"/>
<g clip-path="url(#clipb)" fill="none" stroke-width="6" stroke-linejoin="round" stroke-linecap="round">
<path d="M1343.66,64.02 C1343.7,68.27 1343.32,76.55 1343.92,89.5 C1344.53,102.45 1346.24,123.47 1347.28,141.73 C1348.32,159.99 1349.02,181.86 1350.17,199.06 C1351.32,216.26 1352.56,230.6 1354.18,244.93 C1355.8,259.26 1358.24,277.14 1359.9,285.06 C1361.57,292.98 1362.51,290.01 1364.18,292.45 C1365.84,294.89 1367.51,294.89 1369.9,299.71 C1372.29,304.53 1376.14,314.28 1378.51,321.37 C1380.89,328.46 1382.28,333.98 1384.17,342.26 C1386.05,350.54 1387.94,362.75 1389.82,371.05 C1391.71,379.36 1393.1,383.16 1395.48,392.07 C1397.86,400.99 1401.72,414.9 1404.09,424.56 C1406.47,434.22 1408.06,441.4 1409.75,450.04 C1411.44,458.68 1412.74,473.87 1414.22,476.41 C1415.7,478.96 1417.21,471.85 1418.63,465.33 C1420.04,458.81 1421.61,437.3 1422.7,437.3 C1423.8,437.3 1424.49,456.84 1425.2,465.33 C1425.92,473.82 1426.4,475.88 1426.98,488.26 C1427.56,500.64 1427.98,522.49 1428.69,539.6 C1429.4,556.72 1429.69,576.72 1431.25,590.95 C1432.82,605.17 1435.25,616.43 1438.09,624.96 C1440.93,633.5 1445.15,638.02 1448.28,642.16 C1451.42,646.3 1454.61,649.81 1456.9,649.81 C1459.19,649.81 1460.05,647.7 1462.03,642.16 C1464.01,636.62 1465.39,620.82 1468.8,616.55 C1472.21,612.29 1478.76,616.28 1482.48,616.55 C1486.2,616.83 1487.96,619.65 1491.09,618.21 C1494.23,616.77 1498.17,608.74 1501.29,607.89 C1504.4,607.04 1506.35,608.82 1509.77,613.11 C1513.19,617.4 1517.8,629.36 1521.8,633.63 C1525.81,637.89 1528.93,635.6 1533.77,638.72 C1538.62,641.84 1545.18,648.38 1550.87,652.35 C1556.56,656.32 1562.21,659.7 1567.9,662.55 C1573.59,665.39 1579.3,667.98 1585,669.42 C1590.7,670.87 1595.27,670.34 1602.1,671.21 C1608.93,672.08 1618.84,674.95 1625.97,674.65 C1633.09,674.35 1639.18,670.97 1644.84,669.42 C1650.51,667.87 1655.69,667.05 1659.97,665.35 C1664.24,663.65 1664.83,661.48 1670.49,659.23 C1676.14,656.98 1685.77,655.92 1693.9,651.84 C1702.03,647.77 1713.07,641.84 1719.28,634.77 C1725.5,627.7 1726.94,617.02 1731.18,609.42 C1735.43,601.82 1740.22,593.96 1744.73,589.16 C1749.25,584.36 1754.05,581.77 1758.28,580.63 C1762.51,579.48 1766.17,581.16 1770.11,582.28 C1774.06,583.41 1777.72,585.96 1781.95,587.38 C1786.18,588.8 1790.4,589.67 1795.5,590.82 C1800.59,591.97 1806.87,593.13 1812.53,594.26 C1818.18,595.38 1823.8,596.74 1829.43,597.57 C1835.06,598.4 1840.69,599.23 1846.33,599.23 C1851.97,599.23 1857.65,598.7 1863.3,597.57 C1868.94,596.45 1873.15,595.3 1880.2,592.48 C1887.24,589.65 1897.13,584.02 1905.58,580.63 C1914.03,577.23 1922.41,575.19 1930.9,572.09 C1939.38,568.99 1949.4,566.25 1956.48,562.03 C1963.56,557.8 1969.15,552.39 1973.38,546.74 C1977.61,541.09 1979.59,535.19 1981.86,528.14 C1984.13,521.09 1985.72,513.49 1986.99,504.44 C1988.26,495.4 1988.94,484.61 1989.49,473.87 C1990.04,463.12 1989.96,472.19 1990.28,439.98 C1990.6,407.77 1991.1,339.01 1991.4,280.6 C1991.69,222.19 1991.92,125.6 1992.05,89.5 C1992.19,53.4 1992.16,68.27 1992.19,64.02" stroke="#0000FF"/>
<path d="M1338.53,64.02 1338.86,120.08 1339.19,176.13 1342.41,216.9 1347.01,256.39 1350.37,285.06 1355.63,331.56 1359.87,357.04 1366.92,365.32 1373.96,362.14 1381,369.14 1388.05,371.05 1408.51,446.68 1410.08,452.01 1411.65,457.35 1413.15,462.71 1414.49,468.16 1415.83,473.6 1419.01,478.07 1422.09,482.7 1424.99,487.49 1427.76,490.32 1428.61,495.81 1429.46,501.3 1430.45,506.74 1431.45,512.16 1432.46,517.58 1433.51,522.98 1434.64,528.34 1435.77,533.69 1436.92,539.03 1438.16,544.33 1439.57,548.27 1441.13,550.54 1442.91,555.24 1443.4,560.85 1443.89,566.45 1444.38,572.06 1444.87,577.66 1445.36,583.27 1445.83,588.88 1446.64,594.45 1447.65,599.99 1448.66,605.53 1449.67,611.07 1450.91,616.56 1452.26,622.02 1453.62,627.48 1456.12,632.5 1458.88,637.39 1461.84,642.18 1464.97,646.83 1469.32,650.32 1473.83,653.63 1475.85,651.56 1477.87,649.5 1479.41,646.99 1480.5,644.24 1481.38,641.39 1482.26,638.55 1483.15,635.7 1483.97,632.84 1484.76,629.96 1485.56,627.09 1486.44,624.29 1487.88,621.95 1489.32,619.61 1493.29,619.69 1497.23,619.76 1501.14,619.91 1504.99,620.6 1508.57,620.47 1511.46,618.14 1514.33,615.63 1517.29,613.96 1520.65,615.56 1523.87,617.31 1526.04,620.09 1528.21,622.91 1530.37,625.76 1532.52,628.65 1534.76,631.76 1538.3,633.47 1541.85,635.18 1545.23,637.2 1548.33,639.76 1551.44,642.33 1554.56,644.91 1557.7,647.51 1561.07,649.82 1564.56,651.98 1568.07,654.14 1571.6,656.31 1575.3,658.19 1579.15,659.68 1583.02,661.11 1586.92,662.55 1591.01,663.28 1595.19,663.7 1599.39,664.11 1603.6,664.53 1607.8,665.08 1612.02,665.62 1616.23,666.15 1620.46,666.67 1624.68,667.17 1629.42,666.21 1634.16,665.23 1638.91,664.23 1643.67,663.22 1648.44,662.19 1653.23,661 1658.03,659.79 1662.86,658.57 1667.38,656.54 1671.92,654.44 1676.55,652.48 1681.47,651.16 1686.42,649.83 1691.42,648.51 1696.44,647.19 1701.51,645.87 1706.38,644.07 1711.12,641.93 1715.9,639.82 1720.72,637.72 1725.58,635.65 1730.48,633.59 1735.42,631.56 1739.63,628.9 1743.4,625.85 1747.19,622.75 1751.01,619.56 1754.85,616.41 1758.73,613.28 1762.42,609.56 1766.33,605.81 1770.23,602.06 1773.59,597.81 1776.77,593.41 1779.91,588.99 1783.42,585.05 1787.08,581.36 1791.11,578.05 1795.63,575.28 1799.59,576.34 1803.55,577.41 1807.42,578.8 1811.11,580.71 1814.7,582.73 1818.39,584.46 1822.14,586.03 1825.89,587.6 1829.77,588.89 1833.86,589.77 1837.95,590.65 1842.04,591.54 1846.13,592.39 1850.25,593.15 1854.36,593.91 1858.48,594.62 1862.64,595.1 1866.79,595.57 1870.95,596.05 1887.69,594.85 1901.83,591 1915.38,585.55 1927.88,578.17 1939.71,570.98 1950.82,563.39 1960.85,555.15 1970.28,545.95 1977.83,534.67 1982.66,521.38 1985.95,507.35 1988.2,492.98 1989.25,478.42 1990.17,463.84 1990.51,449.22 1990.79,434.59 1990.94,419.94 1991.04,405.28 1991.14,390.61 1991.24,375.93 1991.34,361.23 1991.44,346.52 1991.54,331.79 1991.64,317.04 1991.74,302.27 1991.83,287.49 1991.91,272.69 1991.95,257.88 1992,243.04 1992.04,228.19 1992.09,213.33 1992.14,198.44 1992.19,183.55 1992.23,168.64 1992.28,153.72 1992.33,138.79 1992.38,123.85 1992.44,108.9 1992.49,93.94 1992.56,78.98 1992.63,64.02" stroke="#3B1EF0"/>
<path d="M1339.32,64.02 1339.65,120.08 1339.98,176.13 1343.2,216.9 1347.8,256.39 1351.16,285.06 1356.42,331.56 1362.99,371.05 1365.03,381.25 1371.2,389.53 1377.36,386.34 1383.53,393.35 1389.69,395.26 1408.01,445.33 1409.86,450.73 1411.71,456.13 1413.46,461.58 1414.98,467.13 1416.51,472.68 1419.56,477.42 1422.53,482.3 1425.34,487.31 1428.06,490.7 1429.18,496.29 1430.3,501.88 1431.61,507.39 1432.95,512.89 1434.29,518.38 1435.69,523.84 1437.2,529.24 1438.71,534.64 1440.26,540.02 1441.91,545.34 1443.77,548.77 1448.25,554.33 1448.83,560.08 1449.41,565.83 1449.99,571.59 1450.57,577.34 1451.15,583.09 1451.7,588.85 1452.53,594.57 1453.53,600.28 1454.53,605.98 1455.54,611.68 1456.87,617.3 1458.34,622.89 1459.83,628.47 1462.25,633.69 1465.05,638.74 1468.13,643.64 1471.34,648.43 1475.86,651.92 1480.6,655.16 1482.82,653.18 1485.04,651.21 1486.58,648.6 1487.7,645.75 1488.66,642.83 1489.61,639.91 1490.57,636.99 1491.44,634.04 1492.27,631.08 1493.1,628.11 1494.06,625.26 1495.79,623.05 1497.53,620.83 1501.2,620.95 1504.86,621.05 1508.51,621.22 1512.1,621.85 1515.49,621.8 1518.31,619.94 1521.11,617.84 1524,616.41 1527.21,617.66 1530.31,619.04 1532.55,621.25 1534.79,623.47 1537.04,625.7 1539.27,627.95 1541.54,630.64 1544.83,632.22 1548.13,633.81 1551.3,635.63 1554.22,637.88 1557.15,640.13 1560.08,642.39 1563.02,644.66 1566.13,646.68 1569.35,648.53 1572.59,650.37 1575.84,652.21 1579.21,653.81 1582.71,654.94 1586.24,655.95 1589.77,656.96 1593.44,657.42 1597.18,657.64 1600.93,657.86 1604.67,658.09 1608.41,658.41 1612.16,658.74 1615.9,659.06 1619.65,659.38 1623.39,659.69 1628.65,658.96 1633.91,658.21 1639.17,657.44 1644.45,656.67 1649.73,655.87 1655.01,654.74 1660.3,653.61 1665.61,652.47 1670.68,650.69 1675.76,648.84 1680.92,647.12 1686.3,645.95 1691.71,644.78 1697.15,643.61 1702.62,642.44 1708.11,641.27 1713.45,639.74 1718.69,637.94 1723.97,636.16 1729.27,634.4 1734.61,632.65 1739.97,630.91 1745.35,629.19 1750.19,626.99 1754.68,624.49 1759.18,621.86 1763.68,619.1 1768.21,616.36 1772.75,613.64 1776.96,610 1781.27,606.19 1785.57,602.38 1789.12,597.86 1792.41,593.12 1795.68,588.36 1799.15,583.93 1802.69,579.66 1806.79,575.94 1811.64,572.98 1815.33,574.23 1819.02,575.48 1822.63,576.98 1826.08,578.92 1829.39,581.02 1832.78,582.9 1836.21,584.65 1839.64,586.41 1843.24,587.81 1847.13,588.68 1851.03,589.55 1854.92,590.42 1858.82,591.25 1862.75,591.96 1866.68,592.66 1870.61,593.33 1874.57,593.81 1878.53,594.3 1882.49,594.78 1898.92,593.61 1912.87,589.84 1926.25,584.58 1938.23,576.79 1949.01,568.65 1958.75,559.89 1967.01,550.45 1974.8,540.27 1980.69,528.44 1984.49,515.06 1987.1,501.12 1988.92,486.9 1989.8,472.54 1990.57,458.16 1990.86,443.75 1991.1,429.33 1991.25,414.9 1991.35,400.45 1991.45,385.99 1991.55,371.52 1991.65,357.03 1991.75,342.52 1991.85,328 1991.95,313.47 1992.06,298.91 1992.14,284.34 1992.22,269.75 1992.26,255.14 1992.31,240.52 1992.36,225.88 1992.41,211.22 1992.46,196.55 1992.51,181.87 1992.56,167.17 1992.61,152.46 1992.66,137.74 1992.72,123 1992.77,108.27 1992.82,93.52 1992.89,78.77 1992.97,64.02" stroke="#7755CC"/>
<path d="M1340.11,64.02 1340.44,120.08 1340.77,176.13 1343.99,216.9 1348.59,256.39 1351.95,285.06 1357.21,331.56 1363.78,371.05 1367.86,391.44 1373.73,399.72 1379.6,396.53 1385.47,403.54 1391.34,405.45 1407.55,444.1 1409.66,449.56 1411.76,455.02 1413.74,460.53 1415.44,466.19 1417.13,471.84 1420.06,476.83 1422.93,481.94 1425.67,487.15 1428.33,491.05 1429.7,496.73 1431.07,502.41 1432.68,507.99 1434.32,513.55 1435.96,519.12 1437.69,524.63 1439.54,530.07 1441.4,535.52 1443.31,540.93 1445.34,546.27 1447.62,549.22 1450.18,549.21 1453.13,553.49 1453.8,559.38 1454.46,565.27 1455.12,571.16 1455.79,577.04 1456.45,582.93 1457.08,588.82 1457.94,594.69 1458.93,600.54 1459.92,606.38 1460.92,612.23 1462.33,617.98 1463.92,623.68 1465.51,629.38 1467.88,634.79 1470.7,639.97 1473.89,644.98 1477.18,649.89 1481.85,653.39 1486.8,656.56 1489.21,654.66 1491.61,652.77 1493.15,650.07 1494.31,647.14 1495.33,644.15 1496.35,641.16 1497.37,638.17 1498.29,635.15 1499.15,632.1 1500.01,629.05 1501.05,626.15 1503.05,624.05 1505.05,621.96 1508.44,622.1 1511.82,622.23 1515.2,622.42 1518.53,622.98 1521.69,622.99 1524.39,621.53 1527.08,619.78 1529.84,618.54 1532.85,619.48 1535.77,620.51 1538.01,622.21 1540.24,623.93 1542.47,625.65 1544.7,627.38 1546.9,629.76 1549.93,631.25 1552.97,632.75 1555.89,634.45 1558.62,636.48 1561.35,638.52 1564.09,640.56 1566.83,642.61 1569.71,644.47 1572.71,646.12 1575.72,647.76 1578.74,649.4 1581.86,650.86 1585.1,651.78 1588.37,652.53 1591.64,653.28 1595.03,653.6 1598.47,653.72 1601.92,653.84 1605.36,653.96 1608.8,654.17 1612.25,654.37 1615.69,654.57 1619.14,654.77 1622.58,654.96 1628.17,654.37 1633.75,653.77 1639.34,653.16 1644.94,652.53 1650.54,651.88 1656.13,650.8 1661.72,649.72 1667.34,648.63 1672.76,647.02 1678.17,645.33 1683.65,643.76 1689.32,642.69 1695.02,641.62 1700.73,640.55 1706.46,639.48 1712.21,638.41 1717.84,637.05 1723.39,635.47 1728.96,633.91 1734.55,632.35 1740.16,630.81 1745.8,629.27 1751.45,627.74 1756.65,625.82 1761.57,623.65 1766.48,621.32 1771.39,618.82 1776.32,616.33 1781.26,613.86 1785.76,610.26 1790.3,606.42 1794.83,602.58 1798.47,597.89 1801.83,592.94 1805.16,587.98 1808.61,583.26 1812.06,578.64 1816.2,574.68 1821.25,571.61 1824.77,572.97 1828.3,574.32 1831.76,575.89 1835.06,577.85 1838.2,579.99 1841.41,581.96 1844.65,583.82 1847.88,585.69 1851.32,587.17 1855.1,588.03 1858.87,588.89 1862.65,589.75 1866.44,590.57 1870.25,591.24 1874.07,591.91 1877.89,592.55 1881.73,593.04 1885.57,593.53 1889.42,594.02 1905.67,592.86 1919.52,589.14 1932.83,583.99 1944.55,575.94 1954.75,567.21 1963.69,557.71 1970.89,547.48 1977.68,536.63 1982.55,524.4 1985.7,510.9 1987.88,496.94 1989.41,482.76 1990.18,468.46 1990.85,454.15 1991.11,439.81 1991.33,425.47 1991.47,411.12 1991.58,396.76 1991.69,382.39 1991.8,368.02 1991.9,353.63 1992.01,339.24 1992.12,324.84 1992.22,310.43 1992.33,296 1992.42,281.57 1992.49,267.12 1992.55,252.67 1992.6,238.21 1992.66,223.73 1992.71,209.25 1992.77,194.75 1992.82,180.25 1992.88,165.74 1992.93,151.23 1992.99,136.7 1993.04,122.17 1993.1,107.64 1993.16,93.1 1993.23,78.56 1993.3,64.02" stroke="#B87AB0"/>
<path d="M1340.9,64.02 1341.23,120.08 1341.56,176.13 1344.78,216.9 1349.38,256.39 1352.74,285.06 1358,331.56 1364.57,371.05 1370.69,401.63 1376.26,409.91 1381.83,406.73 1387.41,413.73 1392.98,415.64 1407.18,443.09 1409.49,448.6 1411.81,454.1 1413.97,459.68 1415.81,465.41 1417.64,471.15 1420.47,476.35 1423.25,481.64 1425.93,487.02 1428.55,491.33 1430.13,497.09 1431.7,502.85 1433.55,508.48 1435.44,514.1 1437.33,519.71 1439.32,525.28 1441.46,530.75 1443.61,536.23 1445.81,541.67 1448.15,547.03 1450.77,549.59 1453.72,548.69 1457.13,552.81 1457.86,558.81 1458.6,564.8 1459.33,570.8 1460.06,576.8 1460.79,582.8 1461.49,588.8 1462.36,594.78 1463.35,600.75 1464.33,606.72 1465.32,612.68 1466.79,618.53 1468.48,624.33 1470.17,630.13 1472.48,635.69 1475.33,640.98 1478.6,646.07 1481.96,651.09 1486.75,654.59 1491.88,657.7 1494.43,655.87 1496.98,654.04 1498.53,651.28 1499.71,648.28 1500.79,645.23 1501.87,642.19 1502.94,639.14 1503.89,636.05 1504.78,632.94 1505.67,629.83 1506.76,626.88 1508.98,624.87 1511.2,622.87 1514.37,623.04 1517.54,623.2 1520.7,623.41 1523.84,623.92 1526.85,623.98 1529.49,622.87 1532.11,621.42 1534.79,620.35 1537.68,621.03 1540.5,621.78 1542.77,623.06 1545.04,624.33 1547.32,625.61 1549.59,626.88 1551.79,628.95 1554.63,630.36 1557.47,631.77 1560.22,633.33 1562.81,635.15 1565.4,636.97 1567.98,638.78 1570.57,640.6 1573.26,642.27 1576.06,643.71 1578.88,645.13 1581.69,646.55 1584.58,647.82 1587.57,648.5 1590.59,648.96 1593.61,649.43 1596.71,649.56 1599.84,649.55 1602.97,649.54 1606.1,649.54 1609.22,649.6 1612.34,649.66 1615.46,649.72 1618.58,649.78 1621.7,649.85 1627.64,649.41 1633.58,648.96 1639.52,648.5 1645.47,648.04 1651.42,647.52 1657.35,646.49 1663.29,645.44 1669.25,644.39 1675.05,642.94 1680.86,641.41 1686.72,639.99 1692.74,639.01 1698.77,638.03 1704.82,637.05 1710.88,636.07 1716.97,635.1 1722.97,633.9 1728.91,632.56 1734.87,631.23 1740.85,629.91 1746.86,628.59 1752.88,627.27 1758.91,625.96 1764.63,624.37 1770.14,622.61 1775.65,620.65 1781.13,618.46 1786.64,616.29 1792.15,614.14 1797.11,610.6 1802.02,606.72 1806.92,602.83 1810.75,597.92 1814.24,592.71 1817.71,587.48 1821.15,582.37 1824.54,577.29 1828.73,572.99 1834.05,569.77 1837.36,571.28 1840.67,572.78 1843.94,574.43 1847.04,576.41 1849.96,578.63 1852.91,580.71 1855.9,582.72 1858.88,584.73 1862.09,586.31 1865.72,587.16 1869.34,588.01 1872.96,588.85 1876.59,589.66 1880.25,590.29 1883.92,590.91 1887.59,591.52 1891.28,592.01 1894.96,592.51 1898.65,593.01 1914.66,591.87 1928.34,588.22 1941.51,583.21 1952.79,574.84 1962.14,565.36 1969.97,554.94 1975.75,543.76 1981.24,532.16 1984.79,519.52 1987.13,505.97 1988.78,492.1 1989.96,478.06 1990.6,463.94 1991.16,449.81 1991.38,435.66 1991.56,421.5 1991.7,407.33 1991.81,393.15 1991.91,378.97 1992.02,364.77 1992.13,350.56 1992.24,336.34 1992.34,322.11 1992.45,307.87 1992.56,293.61 1992.64,279.34 1992.71,265.06 1992.77,250.76 1992.82,236.45 1992.88,222.13 1992.93,207.8 1992.98,193.46 1993.04,179.11 1993.1,164.75 1993.15,150.37 1993.21,136 1993.27,121.61 1993.33,107.22 1993.38,92.82 1993.45,78.42 1993.53,64.02" stroke="#FFB088"/>
<path d="M1341.69,64.02 1342.02,120.08 1342.35,176.13 1345.57,216.9 1350.17,256.39 1353.52,285.06 1358.79,331.56 1365.36,371.05 1373.26,410.55 1378.6,418.83 1383.94,415.64 1389.28,422.65 1394.62,424.56 1406.77,441.97 1409.31,447.53 1411.85,453.09 1414.23,458.73 1416.22,464.56 1418.21,470.38 1420.93,475.81 1423.61,481.31 1426.23,486.87 1428.8,491.65 1430.6,497.49 1432.4,503.33 1434.52,509.03 1436.69,514.7 1438.86,520.38 1441.14,525.99 1443.6,531.51 1446.06,537.02 1448.59,542.49 1451.27,547.87 1454.28,550 1457.65,548.11 1461.58,552.05 1462.38,558.17 1463.19,564.29 1464,570.41 1464.81,576.53 1465.62,582.65 1466.38,588.78 1467.27,594.89 1468.25,600.99 1469.23,607.09 1470.21,613.19 1471.75,619.15 1473.54,625.06 1475.34,630.96 1477.59,636.69 1480.47,642.11 1483.83,647.29 1487.26,652.42 1492.2,655.92 1497.52,658.98 1500.24,657.22 1502.96,655.46 1504.5,652.62 1505.72,649.55 1506.86,646.44 1507.99,643.32 1509.13,640.21 1510.12,637.05 1511.04,633.87 1511.96,630.68 1513.11,627.69 1515.58,625.79 1518.04,623.89 1520.96,624.08 1523.88,624.28 1526.8,624.5 1529.71,624.95 1532.52,625.07 1535.06,624.33 1537.59,623.2 1540.16,622.32 1542.89,622.7 1545.56,623.13 1550.11,624.76 1554.67,626.35 1556.83,628.11 1559.44,629.44 1562.05,630.76 1564.59,632.2 1567.01,633.81 1569.43,635.42 1571.84,637.02 1574.25,638.62 1576.73,640.12 1579.32,641.37 1581.93,642.59 1584.53,643.81 1587.17,644.92 1589.92,645.38 1592.69,645.59 1595.46,645.79 1598.28,645.77 1601.12,645.65 1603.96,645.54 1606.79,645.43 1609.61,645.36 1612.43,645.3 1615.25,645.23 1618.07,645.18 1620.89,645.12 1627.15,644.83 1633.42,644.54 1639.69,644.24 1645.96,643.94 1652.22,643.6 1658.45,642.63 1664.68,641.66 1670.91,640.69 1677.03,639.44 1683.14,638.1 1689.27,636.85 1695.52,636 1701.77,635.16 1708.01,634.31 1714.27,633.47 1720.52,632.62 1726.7,631.62 1732.82,630.5 1738.95,629.38 1745.08,628.26 1751.21,627.14 1757.35,626.01 1763.48,624.87 1769.36,623.52 1775.07,622.02 1780.74,620.27 1786.38,618.27 1792.02,616.27 1797.66,614.28 1802.67,610.77 1807.6,606.86 1812.52,602.95 1816.29,597.94 1819.72,592.6 1823.14,587.27 1826.5,581.99 1829.78,576.71 1833.97,572.29 1839.39,569.01 1842.61,570.57 1845.83,572.14 1849.01,573.82 1852.03,575.82 1854.85,578.05 1857.71,580.19 1860.58,582.26 1863.46,584.33 1866.58,585.95 1870.14,586.8 1873.7,587.64 1877.25,588.48 1880.82,589.28 1884.42,589.89 1888.03,590.49 1891.63,591.08 1895.25,591.58 1898.87,592.09 1902.49,592.59 1918.41,591.46 1932.07,587.83 1945.24,582.87 1956.42,574.36 1965.5,564.52 1972.92,553.64 1978.12,541.95 1983.04,529.88 1985.98,516.93 1987.92,503.24 1989.3,489.28 1990.3,475.2 1990.86,461.05 1991.36,446.9 1991.56,432.73 1991.74,418.56 1991.88,404.4 1991.99,390.22 1992.11,376.05 1992.22,361.88 1992.34,347.71 1992.46,333.53 1992.57,319.36 1992.69,305.18 1992.8,291 1992.89,276.82 1992.97,262.64 1993.03,248.46 1993.09,234.28 1993.15,220.1 1993.22,205.91 1993.28,191.73 1993.34,177.54 1993.41,163.35 1993.47,149.16 1993.53,134.97 1993.59,120.78 1993.66,106.59 1993.72,92.4 1993.79,78.21 1993.86,64.02" stroke="#F57A5A"/>
<path d="M1342.48,64.02 1342.81,120.08 1343.13,176.13 1346.36,216.9 1350.96,256.39 1354.31,285.06 1359.57,331.56 1366.15,371.05 1375.83,419.47 1380.94,427.75 1386.05,424.56 1391.16,431.57 1396.27,433.48 1406.27,440.62 1409.09,446.25 1411.91,451.87 1414.54,457.59 1416.71,463.53 1418.88,469.46 1421.48,475.17 1424.05,480.92 1426.59,486.7 1429.1,492.03 1431.17,497.97 1433.24,503.91 1435.69,509.68 1438.18,515.43 1440.68,521.18 1443.31,526.86 1446.16,532.41 1449,537.97 1451.92,543.48 1455.02,548.88 1458.48,550.49 1462.38,547.41 1466.91,551.14 1467.81,557.4 1468.71,563.67 1469.6,569.94 1470.5,576.2 1471.4,582.47 1472.25,588.75 1473.17,595.01 1474.14,601.27 1475.11,607.53 1476.08,613.79 1477.71,619.89 1479.62,625.92 1481.54,631.96 1483.72,637.89 1486.64,643.46 1490.12,648.75 1493.63,654.01 1498.74,657.52 1504.29,660.51 1507.21,658.84 1510.12,657.17 1511.67,654.23 1512.93,651.06 1514.13,647.88 1515.34,644.69 1516.55,641.5 1517.59,638.26 1518.55,634.98 1519.5,631.71 1520.73,628.66 1523.49,626.89 1526.25,625.12 1528.86,625.34 1531.48,625.56 1534.1,625.81 1536.72,626.18 1539.28,626.37 1544.1,625.32 1546.52,624.64 1549.04,624.68 1553.78,625 1558.31,625.51 1562.67,627.15 1564.99,628.38 1567.31,629.62 1569.58,630.9 1571.79,632.29 1574,633.66 1576.2,635.03 1578.39,636.4 1580.62,637.71 1582.96,638.75 1585.32,639.76 1587.67,640.77 1590.04,641.72 1595.01,641.88 1600.01,641.63 1602.52,641.4 1605.03,641.18 1607.54,640.95 1610.04,640.76 1612.53,640.56 1615.02,640.37 1620.01,640.01 1626.63,639.87 1633.25,639.73 1639.87,639.59 1646.49,639.45 1653.1,639.26 1659.67,638.34 1666.24,637.41 1672.8,636.49 1679.31,635.41 1685.8,634.23 1692.3,633.14 1698.87,632.39 1705.44,631.64 1712.01,630.9 1718.57,630.15 1725.14,629.4 1731.66,628.58 1738.15,627.69 1744.64,626.8 1751.12,625.92 1757.61,625.02 1764.09,624.1 1770.56,623.19 1776.9,622.15 1783.15,621.04 1789.35,619.64 1795.5,617.94 1801.66,616.24 1807.81,614.54 1813.22,611.08 1818.46,607.13 1823.7,603.18 1827.62,597.97 1831.15,592.39 1834.68,586.81 1838.02,581.17 1841.22,575.47 1845.47,570.74 1851.13,567.33 1854.15,569.03 1857.17,570.72 1860.17,572.49 1863.01,574.5 1865.63,576.8 1868.26,579.04 1870.9,581.25 1873.54,583.46 1876.46,585.16 1879.87,586 1883.29,586.83 1886.7,587.66 1890.12,588.45 1893.59,589.01 1897.06,589.58 1900.53,590.13 1904,590.64 1907.48,591.15 1910.96,591.66 1926.65,590.54 1940.17,586.98 1953.23,582.16 1964.05,573.34 1972.38,562.8 1978.79,551.05 1982.7,538.45 1986.41,525.64 1988.12,512.26 1989.3,498.48 1990.17,484.56 1990.84,470.58 1991.28,456.56 1991.67,442.53 1991.83,428.5 1991.98,414.47 1992.11,400.44 1992.23,386.42 1992.35,372.39 1992.47,358.36 1992.59,344.33 1992.71,330.31 1992.83,316.28 1992.95,302.26 1993.07,288.24 1993.15,274.22 1993.23,260.2 1993.29,246.18 1993.36,232.16 1993.42,218.15 1993.49,204.13 1993.55,190.12 1993.62,176.1 1993.68,162.09 1993.75,148.08 1993.81,134.07 1993.88,120.06 1993.95,106.05 1994.01,92.04 1994.08,78.03 1994.15,64.02" stroke="#E83C2A"/>
<path d="M1337.74,120.08 C1337.85,129.42 1337.75,159.99 1338.4,176.13 C1339.05,192.27 1340.32,203.52 1341.62,216.9 C1342.93,230.28 1344.9,245.03 1346.23,256.39 C1347.55,267.75 1348.14,272.53 1349.58,285.06 C1351.01,297.59 1352.87,317.23 1354.84,331.56 C1356.81,345.89 1358.91,357.4 1361.42,371.05 C1363.93,384.71 1367.05,402.86 1369.9,413.48 C1372.75,424.09 1375.91,430.25 1378.51,434.75 C1381.12,439.26 1382.72,440.49 1385.55,440.49 C1388.38,440.49 1392.14,435.03 1395.48,434.75 C1398.82,434.48 1402.48,435.58 1405.61,438.83 C1408.73,442.08 1411.09,447.41 1414.22,454.25 C1417.36,461.08 1421.01,471.32 1424.41,479.85 C1427.82,488.39 1431.25,497.8 1434.67,505.46 C1438.09,513.13 1441.51,519.58 1444.93,525.85 C1448.35,532.11 1452.34,538.48 1455.19,543.04 C1458.04,547.61 1459.76,552.68 1462.03,553.24 C1464.3,553.79 1466.81,546.93 1468.8,546.36 C1470.8,545.78 1472.28,543.81 1474,549.8 C1475.72,555.78 1477.43,571.16 1479.13,582.28 C1480.83,593.41 1481.91,606.57 1484.19,616.55 C1486.47,626.53 1489.67,635.35 1492.8,642.16 C1495.94,648.98 1499.58,654.05 1503,657.45 C1506.42,660.85 1510.47,662.25 1513.32,662.55 C1516.17,662.84 1517.84,662.63 1520.09,659.23 C1522.35,655.84 1525.15,647 1526.87,642.16 C1528.59,637.32 1528.7,632.75 1530.42,630.19 C1532.14,627.62 1533.78,627.04 1537.19,626.75 C1540.6,626.45 1545.75,628.7 1550.87,628.4 C1555.99,628.1 1562.21,623.82 1567.9,624.96 C1573.59,626.11 1580.73,632.99 1585,635.28 C1589.27,637.57 1587.85,638.72 1593.55,638.72 C1599.25,638.72 1609.22,635.85 1619.2,635.28 C1629.17,634.71 1643.31,635.85 1653.39,635.28 C1663.47,634.71 1672.94,632.78 1679.69,631.84 C1686.45,630.91 1685.9,630.59 1693.9,629.68 C1701.9,628.76 1716.41,627.47 1727.7,626.36 C1738.99,625.26 1750.33,624.18 1761.63,623.05 C1772.93,621.93 1785.62,621.03 1795.5,619.61 C1805.37,618.19 1813.81,617.36 1820.88,614.52 C1827.95,611.67 1833.11,607.64 1837.91,602.54 C1842.71,597.44 1846.58,589.29 1849.68,583.94 C1852.79,578.59 1853.97,573.54 1856.52,570.43 C1859.08,567.33 1861.9,565.06 1865.01,565.34 C1868.11,565.62 1871.47,568.99 1875.13,572.09 C1878.79,575.19 1882.73,581.39 1886.97,583.94 C1891.21,586.49 1894.64,586.23 1900.58,587.38 C1906.52,588.53 1916.12,590.52 1922.61,590.82 C1929.1,591.12 1933.02,590.59 1939.51,589.16 C1946,587.74 1955.33,585.68 1961.54,582.28 C1967.76,578.89 1972.84,574.15 1976.8,568.78 C1980.75,563.41 1983.03,557.97 1985.28,550.05 C1987.53,542.13 1989.16,539.6 1990.28,521.26 C1991.4,502.91 1991.47,480.09 1991.99,439.98 C1992.5,399.87 1992.99,339.01 1993.37,280.6 C1993.75,222.19 1994.11,125.6 1994.29,89.5 C1994.47,53.4 1994.4,68.27 1994.42,64.02" stroke="#CC0000"/>
</g>
<rect x="1554.5" y="131.4" width="244.8" height="298.4" fill="#000"/>
<rect x="1545.5" y="122.4" width="244.8" height="298.4" fill="#fff" stroke="#777" stroke-width="1.5"/>
<path d="M1550.3,142.4 H1616.3" stroke="#0000FF" stroke-width="6" stroke-linecap="round"/>
<text transform="matrix(1,0,0,1.04,1624.2,153.2)" font-size="30">Formation</text>
<path d="M1550.3,179.36 H1616.3" stroke="#3B1EF0" stroke-width="6" stroke-linecap="round"/>
<text transform="matrix(1,0,0,1.04,1624.2,190.16)" font-size="30">1. Check-up</text>
<path d="M1550.3,216.32 H1616.3" stroke="#7755CC" stroke-width="6" stroke-linecap="round"/>
<text transform="matrix(1,0,0,1.04,1624.2,227.12)" font-size="30">2. Check-up</text>
<path d="M1550.3,253.28 H1616.3" stroke="#B87AB0" stroke-width="6" stroke-linecap="round"/>
<text transform="matrix(1,0,0,1.04,1624.2,264.08)" font-size="30">3. Check-up</text>
<path d="M1550.3,290.24 H1616.3" stroke="#FFB088" stroke-width="6" stroke-linecap="round"/>
<text transform="matrix(1,0,0,1.04,1624.2,301.04)" font-size="30">4. Check-up</text>
<path d="M1550.3,327.2 H1616.3" stroke="#F57A5A" stroke-width="6" stroke-linecap="round"/>
<text transform="matrix(1,0,0,1.04,1624.2,338)" font-size="30">5. Check-up</text>
<path d="M1550.3,364.16 H1616.3" stroke="#E83C2A" stroke-width="6" stroke-linecap="round"/>
<text transform="matrix(1,0,0,1.04,1624.2,374.96)" font-size="30">6. Check-up</text>
<path d="M1550.3,401.12 H1616.3" stroke="#CC0000" stroke-width="6" stroke-linecap="round"/>
<text transform="matrix(1,0,0,1.04,1624.2,411.92)" font-size="30">7. Check-up</text>
<text transform="matrix(1,0,0,1.04,1357.8,243.6)" font-size="48">S<tspan dy="9.33">2</tspan></text>
<text transform="matrix(1,0,0,1.04,1413.3,389.5)" font-size="48">S<tspan dy="8.65">1</tspan></text>
<text transform="matrix(1,0,0,1.04,1488.8,549.5)" font-size="48">G<tspan dy="10.1">2</tspan></text>
<text transform="matrix(1,0,0,1.04,1774.6,505)" font-size="48">G<tspan dy="9.13">1</tspan></text>
<text transform="matrix(1,0,0,1.04,1530.2,695)" font-size="48">Q<tspan dy="9.13">1</tspan></text>
<text transform="matrix(1,0,0,1.04,1851.2,688)" font-size="48">Q<tspan dy="10.58">2</tspan></text>
<path d="M1367.8,282.5 H1407.2" stroke="#000" stroke-width="6.2" fill="none"/>
<path d="M1391.6,266.7 L1407.2,282.5 L1391.6,298.3" stroke="#000" stroke-width="6.2" fill="none" stroke-linecap="round" stroke-linejoin="miter" stroke-miterlimit="8"/>
<path d="M1421.9,419.9 H1469.1" stroke="#000" stroke-width="6.2" fill="none"/>
<path d="M1453.5,404.1 L1469.1,419.9 L1453.5,435.7" stroke="#000" stroke-width="6.2" fill="none" stroke-linecap="round" stroke-linejoin="miter" stroke-miterlimit="8"/>
<path d="M1496.2,586.6 H1552" stroke="#000" stroke-width="6.2" fill="none"/>
<path d="M1536.4,570.8 L1552,586.6 L1536.4,602.4" stroke="#000" stroke-width="6.2" fill="none" stroke-linecap="round" stroke-linejoin="miter" stroke-miterlimit="8"/>
<path d="M1760.8,530.6 H1861" stroke="#000" stroke-width="6.2" fill="none"/>
<path d="M1845.4,514.8 L1861,530.6 L1845.4,546.4" stroke="#000" stroke-width="6.2" fill="none" stroke-linecap="round" stroke-linejoin="miter" stroke-miterlimit="8"/>
<path d="M1762.4,584 V718" stroke="#000" stroke-width="5.9" stroke-dasharray="11.4 6.9"/>
<path d="M1358.4,706.9 H1741.8 M1781.8,706.9 H1976.2" stroke="#000" stroke-width="5.4"/>
<path d="M1337.4,706.9 L1379.9,691.2 Q1369.5,706.9 1379.9,722.6 Z M1761.8,706.9 L1719.3,691.2 Q1729.7,706.9 1719.3,722.6 Z M1761.8,706.9 L1804.3,691.2 Q1793.9,706.9 1804.3,722.6 Z M1996.2,706.9 L1953.7,691.2 Q1964.1,706.9 1953.7,722.6 Z" fill="#000"/>
<rect x="1272.64" y="89.5" width="789.12" height="637" fill="none" stroke="#000" stroke-width="4.4"/>
<path d="M1272.64,726.5 V733 M1338.4,726.5 V739 M1404.16,726.5 V733 M1469.92,726.5 V739 M1535.68,726.5 V733 M1601.44,726.5 V739 M1667.2,726.5 V733 M1732.96,726.5 V739 M1798.72,726.5 V733 M1864.48,726.5 V739 M1930.24,726.5 V733 M1996,726.5 V739 M2061.76,726.5 V733 M1272.64,726.5 H1260.14 M1272.64,662.8 H1266.14 M1272.64,599.1 H1260.14 M1272.64,535.4 H1266.14 M1272.64,471.7 H1260.14 M1272.64,408 H1266.14 M1272.64,344.3 H1260.14 M1272.64,280.6 H1266.14 M1272.64,216.9 H1260.14 M1272.64,153.2 H1266.14 M1272.64,89.5 H1260.14" stroke="#000" stroke-width="4.2"/>
<text transform="matrix(1,0,0,1.04,1338.4,780.5)" font-size="42" text-anchor="middle">0</text>
<text transform="matrix(1,0,0,1.04,1469.92,780.5)" font-size="42" text-anchor="middle">20</text>
<text transform="matrix(1,0,0,1.04,1601.44,780.5)" font-size="42" text-anchor="middle">40</text>
<text transform="matrix(1,0,0,1.04,1732.96,780.5)" font-size="42" text-anchor="middle">60</text>
<text transform="matrix(1,0,0,1.04,1864.48,780.5)" font-size="42" text-anchor="middle">80</text>
<text transform="matrix(1,0,0,1.04,1996,780.5)" font-size="42" text-anchor="middle">100</text>
<text transform="matrix(1,0,0,1.04,1250.64,739.8)" font-size="42" text-anchor="end">0.00</text>
<text transform="matrix(1,0,0,1.04,1250.64,612.4)" font-size="42" text-anchor="end">-0.01</text>
<text transform="matrix(1,0,0,1.04,1250.64,485)" font-size="42" text-anchor="end">-0.02</text>
<text transform="matrix(1,0,0,1.04,1250.64,357.6)" font-size="42" text-anchor="end">-0.03</text>
<text transform="matrix(1,0,0,1.04,1250.64,230.2)" font-size="42" text-anchor="end">-0.04</text>
<text transform="matrix(1,0,0,1.04,1250.64,102.8)" font-size="42" text-anchor="end">-0.05</text>
<text transform="matrix(1,0,0,1.04,1666.4,858)" font-size="54.2" text-anchor="middle">SoC / %</text>
<text transform="translate(1137.34,410.2) rotate(-90) scale(1,1.04)" font-size="54.3" text-anchor="middle">Differential Voltage / V Ah<tspan font-size="35.5" dy="-21.44">-1</tspan></text>
<text transform="matrix(1,0,0,1.04,1065.5,41.7)" font-size="55">b<tspan dx="3.8">)</tspan></text>
<path d="M271.4,984.8 V1621.8 M402.92,984.8 V1621.8 M534.44,984.8 V1621.8 M665.96,984.8 V1621.8 M797.48,984.8 V1621.8 M929,984.8 V1621.8 M205.64,1494.4 H994.76 M205.64,1367 H994.76 M205.64,1239.6 H994.76 M205.64,1112.2 H994.76" stroke="#a6a6a6" stroke-width="1.7" stroke-dasharray="3.4 5" fill="none"/>
<g clip-path="url(#clipc)" fill="none" stroke-width="6" stroke-linejoin="round" stroke-linecap="round">
<path d="M270.74,1154.75 C271.4,1158.7 273.37,1168.13 274.69,1178.45 C276,1188.77 277.35,1205.41 278.63,1216.67 C279.92,1227.92 281.1,1236.2 282.38,1245.97 C283.66,1255.74 284.71,1264.02 286.33,1275.27 C287.95,1286.53 289.86,1302.24 292.11,1313.49 C294.37,1324.75 297.3,1334.73 299.87,1342.79 C302.45,1350.86 304.66,1356.38 307.57,1361.9 C310.47,1367.42 314.07,1372.84 317.3,1375.92 C320.53,1379 323.73,1381.4 326.97,1380.38 C330.2,1379.36 333.15,1373.03 336.7,1369.8 C340.25,1366.58 344.72,1361.35 348.27,1361.01 C351.82,1360.67 354.78,1364.37 358.01,1367.76 C361.23,1371.16 364.72,1377.49 367.61,1381.4 C370.49,1385.3 372.3,1385.2 375.3,1391.21 C378.3,1397.22 381.72,1410.06 385.63,1417.45 C389.53,1424.84 394.33,1430.36 398.71,1435.54 C403.1,1440.72 408.63,1449.09 411.93,1448.54 C415.23,1447.98 416.31,1440.72 418.51,1432.23 C420.7,1423.74 423.19,1399.23 425.08,1397.58 C426.98,1395.92 428.51,1407.22 429.88,1422.29 C431.25,1437.37 431.9,1468.84 433.3,1488.03 C434.7,1507.22 435.83,1525.93 438.3,1537.46 C440.76,1548.99 444.81,1554.45 448.1,1557.21 C451.39,1559.97 455.28,1558.67 458.03,1554.02 C460.78,1549.37 461.85,1536.19 464.6,1529.31 C467.35,1522.43 470.41,1516.86 474.53,1512.75 C478.65,1508.63 485.5,1506.5 489.33,1504.59 C493.15,1502.68 494.47,1499.92 497.48,1501.28 C500.5,1502.64 503.58,1508.9 507.41,1512.75 C511.25,1516.59 516.11,1521.58 520.5,1524.34 C524.88,1527.1 529.31,1526.02 533.72,1529.31 C538.12,1532.6 542,1540.39 546.93,1544.09 C551.87,1547.78 557.83,1550.12 563.31,1551.48 C568.79,1552.83 574.32,1552.64 579.81,1552.24 C585.31,1551.84 590.77,1550.69 596.25,1549.05 C601.73,1547.42 607.21,1544.91 612.69,1542.43 C618.17,1539.95 623.8,1536.74 629.13,1534.15 C634.47,1531.56 638.03,1530.31 644.72,1526.89 C651.41,1523.47 662.42,1517.48 669.25,1513.64 C676.08,1509.79 680.21,1508.48 685.69,1503.83 C691.17,1499.18 696.65,1490.68 702.13,1485.74 C707.61,1480.79 714.18,1476.48 718.57,1474.14 C722.95,1471.81 724.27,1471.17 728.43,1471.72 C732.6,1472.27 738.3,1475.67 743.56,1477.46 C748.82,1479.24 754.52,1480.77 760,1482.42 C765.48,1484.08 770.96,1486.01 776.44,1487.39 C781.92,1488.77 786.08,1490.98 792.88,1490.71 C799.67,1490.43 807.67,1487.95 817.21,1485.74 C826.74,1483.53 840.44,1480.47 850.09,1477.46 C859.73,1474.44 866.75,1471.47 875.08,1467.65 C883.41,1463.82 894.3,1459.47 900.07,1454.52 C905.83,1449.58 906.98,1445.1 909.67,1437.96 C912.35,1430.83 914.27,1424.33 916.18,1411.72 C918.08,1399.1 919.74,1378.76 921.11,1362.29 C922.48,1345.81 923.7,1326.57 924.4,1312.86 C925.1,1299.14 924.99,1313.43 925.32,1279.99 C925.65,1246.54 926.08,1161.4 926.37,1112.2 C926.65,1063 926.9,1010.28 927.03,984.8 C927.16,959.32 927.14,963.57 927.16,959.32" stroke="#0000FF"/>
<path d="M270.74,1174.47 271.59,1181.24 272.44,1188.05 273.28,1194.9 273.97,1201.8 274.52,1208.76 275.23,1215.73 276.01,1222.73 276.78,1229.76 277.75,1236.77 278.88,1243.77 280.03,1250.79 281.19,1257.83 282.4,1264.86 283.73,1271.88 285.09,1278.9 286.47,1285.92 287.86,1292.95 289.35,1299.95 290.92,1306.93 292.5,1313.91 294.16,1320.86 295.93,1327.76 297.73,1334.64 299.78,1341.47 301.91,1348.29 304.04,1355.09 306.18,1361.87 308.43,1368.6 311.33,1375.03 314.5,1381.3 317.86,1387.44 321.78,1393.25 326.83,1397.64 332.82,1400.85 338.84,1401.8 344,1397.54 349.22,1393.35 355.2,1390.46 361.16,1387.54 364.21,1389.47 367.26,1391.39 370.2,1393.37 372.68,1395.79 375.14,1398.2 377.5,1400.73 379.73,1403.42 382.03,1406.04 384.33,1408.66 386.52,1411.34 388.23,1414.29 389.93,1417.24 391.62,1420.2 393.3,1423.16 394.98,1426.14 396.64,1429.13 398.53,1432 400.72,1434.72 402.91,1437.46 405.1,1440.2 407.3,1442.95 409.66,1445.54 412.32,1447.89 414.98,1450.25 417.65,1452.62 420.33,1455.01 424.28,1452.69 426.21,1450.56 428.14,1448.39 429.84,1446.13 431.26,1443.78 432.68,1441.41 434.14,1438.92 435.63,1436.27 437.13,1433.62 438.65,1430.99 440.18,1428.38 441.72,1425.8 442.81,1428.9 443.89,1432.01 444.98,1435.13 446.08,1438.24 447.18,1441.36 448.11,1444.63 448.6,1448 449.09,1451.37 449.57,1454.74 450.07,1458.12 450.56,1461.49 451.06,1464.86 451.56,1468.23 452.06,1471.6 452.53,1474.98 453,1478.36 453.46,1481.74 453.93,1485.12 454.4,1488.49 454.87,1491.86 455.34,1495.23 455.84,1498.59 456.44,1501.93 457.04,1505.28 457.64,1508.62 458.28,1511.94 458.91,1515.26 459.54,1518.57 460.17,1521.89 460.79,1525.2 461.42,1528.5 462.04,1531.8 462.66,1535.11 463.61,1538.27 465.4,1541.08 467.18,1543.9 468.96,1546.72 470.73,1549.54 472.5,1552.35 475.96,1550.98 479.42,1549.61 481.99,1547.39 483.62,1544.29 484.83,1540.83 485.87,1537.24 486.91,1533.65 487.95,1530.06 489.22,1526.57 490.93,1523.26 492.64,1519.95 494.36,1516.65 496.1,1513.35 498.72,1510.85 501.63,1508.65 504.55,1506.46 507.53,1504.32 510.8,1502.55 514.12,1500.89 520.73,1503.08 525.66,1506.11 530.71,1509.01 535.96,1511.71 541.19,1514.42 546.66,1516.71 552.54,1518.29 558.42,1519.74 563.34,1522.57 568.18,1525.49 572.98,1528.61 578.22,1531.31 583.87,1533.42 589.5,1535.55 595.27,1537.09 601.2,1537.84 607.13,1538.6 613,1538.81 618.84,1538.65 624.66,1538.47 630.33,1537.76 635.93,1536.83 641.52,1535.87 647.02,1534.62 652.49,1532.74 657.96,1530.86 663.44,1529.02 668.92,1527.04 674.38,1524.96 679.79,1522.76 685.14,1520.45 690.38,1517.77 695.62,1515.07 700.87,1512.38 706.02,1509.49 710.97,1506.24 715.94,1502.99 720.52,1499.25 724.52,1494.79 728.53,1490.33 732.55,1485.87 736.45,1481.32 740.82,1477.3 745.23,1473.28 749.78,1469.35 754.94,1466.56 760.29,1464.12 763.19,1465.42 766.09,1466.71 769,1468 771.9,1469.29 774.82,1470.53 777.66,1471.77 780.36,1473.12 783.05,1474.48 785.75,1475.83 788.44,1477.19 791.14,1478.55 793.83,1479.9 796.56,1481.23 799.47,1482.43 802.39,1483.55 805.35,1484.52 808.31,1485.49 811.27,1486.47 814.23,1487.44 830.75,1485.66 845.31,1481.59 859.03,1476.16 871.78,1469.56 882.96,1461.51 893.8,1452.83 904.15,1443.6 911.04,1430.94 915.3,1416.54 918.19,1401.59 919.7,1386.4 920.86,1371.17 922.02,1355.94 922.94,1340.69 923.72,1325.43 924.51,1310.17 925.06,1294.9 925.4,1279.63 925.64,1264.35 925.73,1249.08 925.82,1233.81 925.91,1218.54 926.01,1203.27 926.1,1188 926.19,1172.74 926.29,1157.48 926.38,1142.23 926.47,1126.97 926.56,1111.72 926.65,1096.48 926.73,1081.23 926.8,1065.99 926.88,1050.74 926.96,1035.5 927.04,1020.26 927.12,1005.03 927.2,989.79 927.28,974.56 927.36,959.32" stroke="#4A2EE0"/>
<path d="M270.74,1184.33 271.45,1191.09 272.16,1197.88 272.87,1204.72 273.45,1211.61 273.92,1218.54 274.64,1225.49 275.46,1232.45 276.27,1239.45 277.37,1246.4 278.63,1253.36 279.91,1260.32 281.2,1267.31 282.56,1274.28 284.08,1281.23 285.62,1288.18 287.17,1295.13 288.75,1302.09 290.43,1309.01 292.2,1315.92 293.98,1322.82 295.85,1329.68 297.88,1336.48 299.92,1343.27 302.14,1350.01 304.37,1356.77 306.6,1363.51 308.83,1370.24 311.15,1376.92 314.13,1383.27 317.48,1389.42 320.96,1395.47 324.86,1401.26 330.24,1405.17 336.32,1408.23 342.35,1409.05 347.67,1405.01 353.03,1401.04 359.16,1398.54 365.28,1396 368.21,1397.81 371.14,1399.6 374.01,1401.45 376.54,1403.61 379.06,1405.77 381.45,1408.1 383.67,1410.66 385.94,1413.17 388.2,1415.68 390.39,1418.23 392.24,1420.97 394.09,1423.71 395.94,1426.46 397.77,1429.21 399.61,1431.97 401.44,1434.73 403.43,1437.41 405.62,1439.98 407.82,1442.56 410.02,1445.14 412.22,1447.72 414.64,1450.07 417.26,1452.25 419.88,1454.44 422.51,1456.63 425.14,1458.83 429.47,1458.31 433.92,1456.11 437.88,1453.72 441.69,1451.07 443.68,1449.39 445.68,1447.71 447.68,1446.04 449.69,1444.38 451.71,1442.74 452.96,1445.24 454.21,1447.74 455.46,1450.23 456.71,1452.73 457.95,1455.22 458.92,1457.94 459.52,1460.78 460.11,1463.63 460.7,1466.47 461.28,1469.32 461.87,1472.17 462.45,1475.01 463.04,1477.86 463.62,1480.71 464.15,1483.58 464.67,1486.46 465.18,1489.34 465.69,1492.22 466.2,1495.11 466.72,1497.99 467.23,1500.88 467.76,1503.77 468.36,1506.66 468.96,1509.54 469.57,1512.43 470.23,1515.29 470.88,1518.16 471.54,1521.03 472.19,1523.91 472.85,1526.78 473.51,1529.66 474.17,1532.53 474.83,1535.41 475.79,1538.14 477.5,1540.51 479.22,1542.88 480.93,1545.25 482.65,1547.62 484.37,1549.99 487.59,1548.57 490.81,1547.15 493.39,1545.12 495.3,1542.46 496.58,1539.28 497.61,1535.9 498.63,1532.51 499.66,1529.13 500.85,1525.81 502.35,1522.63 503.86,1519.45 505.37,1516.27 506.92,1513.1 509.27,1510.59 511.84,1508.31 514.4,1506.02 517.06,1503.81 520.08,1502.02 523.15,1500.31 530.19,1501.82 535.67,1504.18 541.24,1506.46 546.93,1508.6 552.6,1510.75 558.43,1512.6 564.55,1513.96 570.66,1515.12 576.07,1517.26 581.41,1519.48 586.69,1522 592.25,1524.39 598.11,1526.36 603.94,1528.34 609.86,1529.89 615.9,1530.87 621.92,1531.85 627.9,1532.43 633.85,1532.72 639.78,1532.99 645.59,1532.85 651.34,1532.52 657.08,1532.17 662.75,1531.51 668.42,1530.01 674.07,1528.49 679.74,1526.99 685.38,1525.25 691,1523.36 696.57,1521.37 702.1,1519.29 707.46,1516.64 712.83,1513.98 718.2,1511.31 723.46,1508.44 728.44,1505.04 733.45,1501.64 738.1,1497.8 742.18,1493.24 746.28,1488.69 750.4,1484.13 754.22,1479.34 758.42,1474.96 762.66,1470.57 767.12,1466.34 772.15,1463.06 777.35,1460.05 780.08,1461.38 782.81,1462.71 785.54,1464.04 788.27,1465.37 791.02,1466.66 793.61,1468.02 795.98,1469.56 798.35,1471.11 800.72,1472.66 803.09,1474.21 805.45,1475.75 807.82,1477.3 810.25,1478.81 812.94,1480.12 815.64,1481.36 818.37,1482.49 821.11,1483.61 823.84,1484.74 826.57,1485.87 842.79,1484.64 856.93,1480.22 869.84,1473.95 881.33,1466.13 890.66,1456.87 899.69,1447.08 908.12,1436.84 913.71,1423.87 917.2,1409.52 919.62,1394.74 920.9,1379.78 921.84,1364.77 922.79,1349.77 923.54,1334.75 924.19,1319.72 924.84,1304.7 925.29,1289.66 925.58,1274.63 925.78,1259.59 925.87,1244.55 925.96,1229.52 926.05,1214.49 926.14,1199.46 926.23,1184.43 926.32,1169.41 926.41,1154.39 926.5,1139.37 926.59,1124.35 926.68,1109.34 926.76,1094.33 926.83,1079.32 926.91,1064.32 926.99,1049.31 927.07,1034.31 927.14,1019.31 927.22,1004.31 927.3,989.31 927.38,974.32 927.45,959.32" stroke="#A878B8"/>
<path d="M270.74,1194.19 271.31,1200.94 271.88,1207.72 272.45,1214.55 272.93,1221.43 273.31,1228.35 274.05,1235.28 274.91,1242.23 275.76,1249.21 276.98,1256.13 278.38,1263.05 279.79,1269.98 281.21,1276.93 282.72,1283.87 284.43,1290.77 286.15,1297.67 287.9,1304.57 289.66,1311.48 291.55,1318.35 293.52,1325.2 295.5,1332.04 297.6,1338.84 299.89,1345.55 302.21,1352.25 304.6,1358.94 306.94,1365.65 309.27,1372.35 311.62,1379.03 314.01,1385.68 317.09,1391.97 320.63,1398.01 324.24,1403.97 328.12,1409.75 333.87,1413.18 340.04,1416.07 346.09,1416.77 351.57,1412.98 357.08,1409.23 363.38,1407.15 369.66,1405.03 372.48,1406.7 375.29,1408.36 378.07,1410.07 380.66,1411.97 383.25,1413.86 385.68,1415.98 387.88,1418.4 390.12,1420.8 392.36,1423.19 394.55,1425.62 396.56,1428.14 398.57,1430.67 400.58,1433.2 402.59,1435.73 404.6,1438.25 406.62,1440.78 408.72,1443.25 410.93,1445.67 413.14,1448.08 415.35,1450.49 417.56,1452.9 420.04,1454.99 422.63,1457 425.21,1459 427.8,1461 430.38,1462.99 432.77,1464.05 437.69,1464.49 440.25,1464.55 445.11,1464.59 449.95,1464.36 452.49,1463.75 455.03,1463.13 457.57,1462.52 460.11,1461.9 462.64,1461.28 465.51,1464.96 468.35,1468.6 470.77,1472.53 472.2,1477.08 473.6,1481.62 474.97,1486.16 476.33,1490.72 477.51,1495.37 478.65,1500.05 479.78,1504.76 480.92,1509.5 482.14,1514.26 483.45,1519.01 484.82,1523.76 486.21,1528.54 487.62,1533.34 488.33,1535.75 490.95,1539.87 494.24,1543.62 495.9,1545.49 497.57,1547.37 500.5,1545.89 503.4,1544.42 505.93,1542.62 508.07,1540.47 509.31,1537.6 510.2,1534.45 511.08,1531.3 511.95,1528.15 512.91,1525.03 514.06,1521.98 515.21,1518.94 516.37,1515.89 517.6,1512.86 519.58,1510.35 521.7,1507.97 523.85,1505.59 526.13,1503.33 528.88,1501.53 531.68,1499.77 539.13,1500.63 545.16,1502.36 551.25,1504.03 557.42,1505.62 563.59,1507.21 569.86,1508.62 576.32,1509.71 582.79,1510.53 588.83,1511.93 594.85,1513.38 600.8,1515.19 606.92,1517.15 613.21,1518.86 619.5,1520.57 625.85,1522.01 632.27,1523.11 638.69,1524.21 645.09,1525.07 651.47,1525.76 657.84,1526.44 664.15,1526.87 670.43,1527.18 676.7,1527.49 682.95,1527.52 689.23,1526.43 695.51,1525.33 701.8,1524.25 708.05,1522.79 714.26,1521.12 720.45,1519.39 726.62,1517.61 732.54,1514.99 738.45,1512.35 744.36,1509.71 750.15,1506.83 755.52,1503.17 760.89,1499.52 765.96,1495.49 770.45,1490.76 774.96,1486.04 779.46,1481.31 783.36,1476.1 787.45,1471.1 791.54,1466.1 795.95,1461.33 800.83,1457.22 805.79,1453.27 808.21,1454.67 810.58,1456.07 812.91,1457.49 815.21,1458.92 817.48,1460.33 819.47,1461.93 821.1,1463.84 822.72,1465.75 825.16,1468.6 826.79,1470.49 828.44,1472.38 830.1,1474.26 832.12,1475.88 834.32,1477.38 836.56,1478.78 838.84,1480.16 841.15,1481.52 843.5,1482.89 845.88,1484.25 860.44,1483.15 873.94,1478.23 885.6,1470.73 895.22,1461.16 901.79,1450.15 908.14,1438.81 913.8,1427.19 917.49,1413.86 919.88,1399.68 921.61,1385.23 922.53,1370.66 923.17,1356.06 923.81,1341.46 924.34,1326.85 924.8,1312.23 925.26,1297.6 925.59,1282.97 925.8,1268.32 925.96,1253.67 926.04,1239.01 926.12,1224.34 926.21,1209.67 926.29,1194.99 926.38,1180.31 926.46,1165.61 926.54,1150.92 926.63,1136.21 926.71,1121.5 926.8,1106.78 926.87,1092.05 926.95,1077.32 927.02,1062.58 927.1,1047.84 927.17,1033.1 927.25,1018.35 927.33,1003.59 927.4,988.84 927.48,974.08 927.55,959.32" stroke="#FFB088"/>
<path d="M270.74,1200.77 271.22,1207.5 271.7,1214.27 272.17,1221.09 272.58,1227.95 272.92,1234.85 273.66,1241.74 274.54,1248.65 275.42,1255.59 276.73,1262.47 278.21,1269.33 279.71,1276.21 281.21,1283.11 282.82,1289.99 284.65,1296.82 286.49,1303.65 288.35,1310.49 290.23,1317.33 292.24,1324.13 294.33,1330.9 296.44,1337.67 298.67,1344.39 301.11,1351.02 303.57,1357.64 306.07,1364.25 308.46,1370.91 310.85,1377.55 313.25,1384.18 315.68,1390.78 318.8,1397.01 322.44,1402.95 326.13,1408.84 329.98,1414.6 335.94,1417.73 342.14,1420.52 348.2,1421.14 353.77,1417.47 359.36,1413.85 365.76,1412 372.13,1410.11 374.87,1411.7 377.62,1413.28 380.34,1414.89 382.96,1416.62 385.57,1418.35 388.01,1420.33 390.19,1422.64 392.39,1424.94 394.6,1427.25 396.78,1429.56 398.85,1431.94 400.92,1434.32 403,1436.7 405.07,1439.08 407.15,1441.45 409.23,1443.83 411.36,1446.17 413.55,1448.48 415.74,1450.78 417.93,1453.09 420.13,1455.39 422.62,1457.34 425.16,1459.23 427.71,1461.13 430.25,1463.02 432.79,1464.91 435.22,1466.29 437.71,1467.21 440.39,1467.76 443.07,1468.32 445.72,1468.87 448.32,1469.4 450.91,1469.94 453.58,1470.19 456.35,1470.03 459.11,1469.86 461.88,1469.7 464.64,1469.53 467.4,1469.35 470.42,1472.44 473.39,1475.46 475.86,1478.81 477.35,1482.81 478.8,1486.81 480.2,1490.82 481.57,1494.85 482.73,1498.99 483.84,1503.18 484.93,1507.42 486.01,1511.71 487.15,1516.05 488.4,1520.39 489.72,1524.76 491.06,1529.18 492.44,1533.63 494.11,1537.95 497.29,1541.35 500.53,1544.75 503.61,1545.7 506.44,1544.21 509.26,1542.72 511.55,1540.74 513.52,1538.51 514.45,1535.44 515.37,1532.37 516.29,1529.3 517.2,1526.22 518.27,1523.22 519.38,1520.22 520.5,1517.22 521.63,1514.22 523.15,1511.45 525.15,1509.03 527.17,1506.61 529.19,1504.19 531.66,1502.18 534.34,1500.41 537.04,1498.63 543.33,1500.07 549.61,1501.5 555.92,1502.91 562.28,1504.25 568.63,1505.59 575.04,1506.81 581.59,1507.81 588.14,1508.51 594.38,1509.62 600.58,1510.77 606.71,1512.34 612.94,1514.18 619.29,1515.84 625.62,1517.51 632,1518.98 638.42,1520.19 644.84,1521.4 651.23,1522.43 657.61,1523.33 663.98,1524.21 670.29,1524.89 676.58,1525.46 682.86,1526.03 689.12,1526.31 695.42,1525.37 701.72,1524.42 708.02,1523.48 714.27,1522.12 720.48,1520.52 726.68,1518.87 732.85,1517.18 738.75,1514.58 744.65,1511.95 750.55,1509.33 756.33,1506.46 761.66,1502.75 766.99,1499.05 772.04,1494.98 776.52,1490.23 781.01,1485.48 785.52,1480.73 789.36,1475.43 793.36,1470.31 797.38,1465.19 801.74,1460.32 806.57,1456.05 811.48,1451.91 813.86,1453.32 816.22,1454.73 818.56,1456.14 820.9,1457.55 823.23,1458.95 825.27,1460.57 826.92,1462.52 828.57,1464.46 830.22,1466.4 831.87,1468.34 833.52,1470.28 835.18,1472.22 836.94,1474.08 839.15,1475.61 841.38,1477.11 843.63,1478.54 845.89,1479.98 848.16,1481.41 850.44,1482.84 866.06,1482.67 879.38,1477.6 890.68,1469.7 899.73,1459.55 905.45,1447.94 910.96,1436.06 915.72,1423.92 918.79,1410.41 920.82,1396.22 922.33,1381.81 923.14,1367.31 923.67,1352.79 924.21,1338.26 924.65,1323.73 925.04,1309.19 925.44,1294.65 925.72,1280.1 925.9,1265.54 926.04,1250.99 926.12,1236.43 926.2,1221.86 926.29,1207.3 926.37,1192.73 926.45,1178.16 926.54,1163.59 926.62,1149.01 926.7,1134.43 926.79,1119.85 926.87,1105.27 926.94,1090.68 927.02,1076.09 927.09,1061.5 927.17,1046.91 927.24,1032.31 927.32,1017.72 927.39,1003.12 927.47,988.52 927.54,973.92 927.62,959.32" stroke="#F07858"/>
<path d="M270.74,1210.63 271.08,1217.34 271.42,1224.06 271.76,1230.81 272.06,1237.58 272.33,1244.36 273.1,1251.12 274.02,1257.88 274.95,1264.65 276.38,1271.33 277.99,1277.98 279.6,1284.64 281.22,1291.31 282.96,1297.94 284.93,1304.52 286.91,1311.1 288.9,1317.67 290.9,1324.25 293.04,1330.79 295.24,1337.3 297.45,1343.81 299.79,1350.27 302.36,1356.63 304.93,1362.99 307.48,1369.36 309.87,1375.8 312.27,1382.24 314.66,1388.66 317.08,1395.07 320.2,1401.11 323.87,1406.86 327.57,1412.58 331.37,1418.21 337.44,1421.03 343.64,1423.67 349.67,1424.17 355.27,1420.54 360.9,1416.96 367.34,1415.24 373.78,1413.5 376.47,1415.02 379.16,1416.55 381.85,1418.09 384.47,1419.68 387.09,1421.28 389.52,1423.14 391.67,1425.36 393.84,1427.57 396,1429.79 398.15,1432.01 400.24,1434.26 402.33,1436.52 404.42,1438.77 406.52,1441.03 408.61,1443.29 410.7,1445.54 412.82,1447.78 414.97,1450 417.13,1452.22 419.28,1454.44 421.44,1456.66 423.9,1458.51 426.41,1460.33 428.91,1462.15 431.41,1463.97 433.91,1465.8 436.34,1467.31 438.85,1468.45 441.58,1469.2 444.3,1469.95 447,1470.69 449.66,1471.43 452.33,1472.16 455.07,1472.59 457.92,1472.59 460.76,1472.58 463.61,1472.58 466.45,1472.58 469.3,1472.58 472.38,1475.43 475.42,1478.23 477.94,1481.37 479.49,1485.18 480.99,1489 482.44,1492.82 483.87,1496.66 485.07,1500.62 486.23,1504.63 487.36,1508.69 488.49,1512.79 489.66,1516.95 490.94,1521.11 492.3,1525.29 493.68,1529.52 495.1,1533.79 496.79,1537.93 499.96,1541.12 503.18,1544.32 506.22,1545.17 509.02,1543.66 511.82,1542.15 514.22,1540.26 516.31,1538.12 517.31,1535.09 518.32,1532.06 519.32,1529.03 520.32,1526 521.45,1523.03 522.6,1520.06 523.75,1517.09 524.91,1514.13 526.46,1511.38 528.42,1508.93 530.39,1506.48 532.35,1504.03 534.77,1502.02 537.39,1500.22 540.01,1498.43 546.49,1499.64 552.96,1500.86 559.46,1502.05 566,1503.19 572.53,1504.34 579.12,1505.39 585.79,1506.29 592.48,1506.87 598.96,1507.71 605.42,1508.57 611.82,1509.88 618.26,1511.56 624.8,1513.11 631.32,1514.66 637.88,1516.08 644.47,1517.33 651.06,1518.57 657.63,1519.69 664.2,1520.72 670.76,1521.75 677.29,1522.63 683.81,1523.44 690.32,1524.25 696.83,1524.78 703.4,1523.99 709.96,1523.2 716.53,1522.42 723.04,1521.17 729.52,1519.65 735.98,1518.1 742.43,1516.52 748.57,1513.93 754.71,1511.31 760.85,1508.69 766.86,1505.82 772.36,1502.02 777.87,1498.21 783.09,1494.06 787.76,1489.24 792.43,1484.42 797.1,1479.6 800.99,1474.14 804.95,1468.77 808.92,1463.4 813.27,1458.32 818.04,1453.72 822.86,1449.2 825.12,1450.63 827.36,1452.06 829.6,1453.5 831.82,1454.94 834.03,1456.37 835.9,1458.07 837.33,1460.14 838.76,1462.21 840.19,1464.28 841.63,1466.35 843.07,1468.42 844.51,1470.48 846.06,1472.47 848.13,1474.07 850.21,1475.65 852.31,1477.18 854.42,1478.72 856.54,1480.26 858.67,1481.79 874.1,1481.99 887.16,1476.69 897.94,1468.21 906.19,1457.23 910.7,1444.77 915.01,1432.1 918.49,1419.22 920.66,1405.44 922.18,1391.23 923.36,1376.88 924.01,1362.47 924.4,1348.04 924.78,1333.61 925.11,1319.18 925.4,1304.75 925.7,1290.33 925.9,1275.9 926.04,1261.47 926.16,1247.05 926.24,1232.63 926.32,1218.21 926.4,1203.8 926.49,1189.39 926.57,1174.98 926.65,1160.58 926.73,1146.18 926.81,1131.79 926.89,1117.4 926.97,1103.01 927.05,1088.63 927.12,1074.25 927.2,1059.88 927.27,1045.51 927.35,1031.14 927.42,1016.77 927.49,1002.41 927.57,988.04 927.64,973.68 927.72,959.32" stroke="#E03A28"/>
<path d="M270.74,1220.49 C270.92,1226.33 271.14,1246.39 271.79,1255.52 C272.45,1264.66 272.92,1267.2 274.69,1275.27 C276.45,1283.34 279.48,1294.32 282.38,1303.94 C285.29,1313.56 289.18,1324.6 292.11,1332.98 C295.05,1341.37 297.32,1347.61 300.01,1354.26 C302.69,1360.91 304.94,1364.79 308.23,1372.86 C311.51,1380.93 315.62,1394.43 319.73,1402.67 C323.84,1410.91 327.94,1417.92 332.89,1422.29 C337.83,1426.67 344.46,1429.19 349.39,1428.92 C354.32,1428.64 358.09,1422.55 362.48,1420.64 C366.86,1418.72 371.04,1416.62 375.7,1417.45 C380.35,1418.28 385.23,1421.51 390.43,1425.6 C395.62,1429.7 401.39,1436.56 406.87,1442.04 C412.35,1447.52 417.83,1453.8 423.31,1458.47 C428.79,1463.14 434.23,1467.05 439.75,1470.07 C445.26,1473.08 450.9,1475.21 456.38,1476.56 C461.86,1477.92 468.49,1476.84 472.63,1478.22 C476.76,1479.6 478.39,1481 481.17,1484.85 C483.96,1488.69 486.59,1495.25 489.33,1501.28 C492.07,1507.31 494.92,1515 497.61,1521.03 C500.31,1527.06 502.77,1533.62 505.51,1537.46 C508.25,1541.3 510.77,1544.09 514.05,1544.09 C517.34,1544.09 521.95,1542.68 525.23,1537.46 C528.52,1532.24 531.26,1518.5 533.78,1512.75 C536.3,1506.99 538.17,1505.4 540.36,1502.94 C542.55,1500.47 543.1,1498.52 546.93,1497.97 C550.77,1497.42 555.15,1498.8 563.37,1499.62 C571.59,1500.45 586.83,1502.24 596.25,1502.94 C605.68,1503.64 610.5,1502.57 619.93,1503.83 C629.35,1505.08 641.85,1508.24 652.81,1510.45 C663.77,1512.66 676.04,1515.17 685.69,1517.08 C695.33,1518.99 702.46,1521.39 710.68,1521.92 C718.9,1522.45 726.79,1521.37 735.01,1520.26 C743.23,1519.16 751.78,1517.76 760,1515.29 C768.22,1512.83 777.53,1509.03 784.33,1505.48 C791.12,1501.94 795.29,1498.69 800.77,1494.02 C806.25,1489.35 812.28,1483.51 817.21,1477.46 C822.14,1471.4 826.2,1463.19 830.36,1457.71 C834.52,1452.23 838.31,1445.41 842.2,1444.59 C846.09,1443.76 850.42,1448.62 853.7,1452.74 C856.99,1456.86 858.47,1464.63 861.92,1469.3 C865.38,1473.97 869.49,1478.86 874.42,1480.77 C879.35,1482.68 885.93,1482.4 891.52,1480.77 C897.11,1479.13 903.57,1475.63 907.96,1470.96 C912.34,1466.29 915.34,1461.25 917.82,1452.74 C920.3,1444.23 921.57,1434.95 922.82,1419.87 C924.07,1404.8 924.77,1385.6 925.32,1362.29 C925.87,1338.97 925.82,1321.67 926.11,1279.99 C926.39,1238.3 926.76,1161.4 927.03,1112.2 C927.29,1063 927.55,1010.28 927.68,984.8 C927.82,959.32 927.79,963.57 927.82,959.32" stroke="#CC0000"/>
</g>
<rect x="484.9" y="1028.9" width="244.8" height="262" fill="#000"/>
<rect x="475.9" y="1019.9" width="244.8" height="262" fill="#fff" stroke="#777" stroke-width="1.5"/>
<path d="M480.5,1040.3 H547.1" stroke="#0000FF" stroke-width="6" stroke-linecap="round"/>
<text transform="matrix(1,0,0,1.04,555,1051.1)" font-size="30">Formation</text>
<path d="M480.5,1077.25 H547.1" stroke="#4A2EE0" stroke-width="6" stroke-linecap="round"/>
<text transform="matrix(1,0,0,1.04,555,1088.05)" font-size="30">1. Check-up</text>
<path d="M480.5,1114.2 H547.1" stroke="#A878B8" stroke-width="6" stroke-linecap="round"/>
<text transform="matrix(1,0,0,1.04,555,1125)" font-size="30">2. Check-up</text>
<path d="M480.5,1151.15 H547.1" stroke="#FFB088" stroke-width="6" stroke-linecap="round"/>
<text transform="matrix(1,0,0,1.04,555,1161.95)" font-size="30">3. Check-up</text>
<path d="M480.5,1188.1 H547.1" stroke="#F07858" stroke-width="6" stroke-linecap="round"/>
<text transform="matrix(1,0,0,1.04,555,1198.9)" font-size="30">4. Check-up</text>
<path d="M480.5,1225.05 H547.1" stroke="#E03A28" stroke-width="6" stroke-linecap="round"/>
<text transform="matrix(1,0,0,1.04,555,1235.85)" font-size="30">5. Check-up</text>
<path d="M480.5,1262 H547.1" stroke="#CC0000" stroke-width="6" stroke-linecap="round"/>
<text transform="matrix(1,0,0,1.04,555,1272.8)" font-size="30">6. Check-up</text>
<text transform="matrix(1,0,0,1.04,316.3,1308.5)" font-size="48">S<tspan dy="9.52">2</tspan></text>
<text transform="matrix(1,0,0,1.04,405.8,1350)" font-size="48">S<tspan dy="8.17">1</tspan></text>
<text transform="matrix(1,0,0,1.04,486.2,1439.3)" font-size="48">G<tspan dy="9.81">2</tspan></text>
<text transform="matrix(1,0,0,1.04,747.7,1379.3)" font-size="48">G<tspan dy="8.94">1</tspan></text>
<text transform="matrix(1,0,0,1.04,523.6,1586.5)" font-size="48">Q<tspan dy="8.65">1</tspan></text>
<text transform="matrix(1,0,0,1.04,804.4,1586)" font-size="48">Q<tspan dy="9.23">2</tspan></text>
<path d="M338.6,1341.7 H384" stroke="#000" stroke-width="6.2" fill="none"/>
<path d="M368.4,1325.9 L384,1341.7 L368.4,1357.5" stroke="#000" stroke-width="6.2" fill="none" stroke-linecap="round" stroke-linejoin="miter" stroke-miterlimit="8"/>
<path d="M421.8,1378.5 H479.8" stroke="#000" stroke-width="6.2" fill="none"/>
<path d="M464.2,1362.7 L479.8,1378.5 L464.2,1394.3" stroke="#000" stroke-width="6.2" fill="none" stroke-linecap="round" stroke-linejoin="miter" stroke-miterlimit="8"/>
<path d="M497.5,1474.1 H555.2" stroke="#000" stroke-width="6.2" fill="none"/>
<path d="M539.6,1458.3 L555.2,1474.1 L539.6,1489.9" stroke="#000" stroke-width="6.2" fill="none" stroke-linecap="round" stroke-linejoin="miter" stroke-miterlimit="8"/>
<path d="M726.2,1405.9 H838.2" stroke="#000" stroke-width="6.2" fill="none"/>
<path d="M822.6,1390.1 L838.2,1405.9 L822.6,1421.7" stroke="#000" stroke-width="6.2" fill="none" stroke-linecap="round" stroke-linejoin="miter" stroke-miterlimit="8"/>
<path d="M731,1472.6 V1608" stroke="#000" stroke-width="5.9" stroke-dasharray="11.4 6.9"/>
<path d="M291.4,1601.3 H710.4 M750.4,1601.3 H909.4" stroke="#000" stroke-width="5.4"/>
<path d="M270.4,1601.3 L312.9,1585.6 Q302.5,1601.3 312.9,1617 Z M730.4,1601.3 L687.9,1585.6 Q698.3,1601.3 687.9,1617 Z M730.4,1601.3 L772.9,1585.6 Q762.5,1601.3 772.9,1617 Z M929.4,1601.3 L886.9,1585.6 Q897.3,1601.3 886.9,1617 Z" fill="#000"/>
<rect x="205.64" y="984.8" width="789.12" height="637" fill="none" stroke="#000" stroke-width="4.4"/>
<path d="M205.64,1621.8 V1628.3 M271.4,1621.8 V1634.3 M337.16,1621.8 V1628.3 M402.92,1621.8 V1634.3 M468.68,1621.8 V1628.3 M534.44,1621.8 V1634.3 M600.2,1621.8 V1628.3 M665.96,1621.8 V1634.3 M731.72,1621.8 V1628.3 M797.48,1621.8 V1634.3 M863.24,1621.8 V1628.3 M929,1621.8 V1634.3 M994.76,1621.8 V1628.3 M205.64,1621.8 H193.14 M205.64,1558.1 H199.14 M205.64,1494.4 H193.14 M205.64,1430.7 H199.14 M205.64,1367 H193.14 M205.64,1303.3 H199.14 M205.64,1239.6 H193.14 M205.64,1175.9 H199.14 M205.64,1112.2 H193.14 M205.64,1048.5 H199.14 M205.64,984.8 H193.14" stroke="#000" stroke-width="4.2"/>
<text transform="matrix(1,0,0,1.04,271.4,1675.8)" font-size="42" text-anchor="middle">0</text>
<text transform="matrix(1,0,0,1.04,402.92,1675.8)" font-size="42" text-anchor="middle">20</text>
<text transform="matrix(1,0,0,1.04,534.44,1675.8)" font-size="42" text-anchor="middle">40</text>
<text transform="matrix(1,0,0,1.04,665.96,1675.8)" font-size="42" text-anchor="middle">60</text>
<text transform="matrix(1,0,0,1.04,797.48,1675.8)" font-size="42" text-anchor="middle">80</text>
<text transform="matrix(1,0,0,1.04,929,1675.8)" font-size="42" text-anchor="middle">100</text>
<text transform="matrix(1,0,0,1.04,183.64,1635.1)" font-size="42" text-anchor="end">0.00</text>
<text transform="matrix(1,0,0,1.04,183.64,1507.7)" font-size="42" text-anchor="end">-0.01</text>
<text transform="matrix(1,0,0,1.04,183.64,1380.3)" font-size="42" text-anchor="end">-0.02</text>
<text transform="matrix(1,0,0,1.04,183.64,1252.9)" font-size="42" text-anchor="end">-0.03</text>
<text transform="matrix(1,0,0,1.04,183.64,1125.5)" font-size="42" text-anchor="end">-0.04</text>
<text transform="matrix(1,0,0,1.04,183.64,998.1)" font-size="42" text-anchor="end">-0.05</text>
<text transform="matrix(1,0,0,1.04,599.4,1753.3)" font-size="54.2" text-anchor="middle">SoC / %</text>
<text transform="translate(70.34,1305.5) rotate(-90) scale(1,1.04)" font-size="54.3" text-anchor="middle">Differential Voltage / V Ah<tspan font-size="35.5" dy="-21.44">-1</tspan></text>
<text transform="matrix(1,0,0,1.04,-1.5,937)" font-size="55">c<tspan dx="3.8">)</tspan></text>
<path d="M1338.4,984.8 V1621.8 M1469.92,984.8 V1621.8 M1601.44,984.8 V1621.8 M1732.96,984.8 V1621.8 M1864.48,984.8 V1621.8 M1996,984.8 V1621.8 M1272.64,1494.4 H2061.76 M1272.64,1367 H2061.76 M1272.64,1239.6 H2061.76 M1272.64,1112.2 H2061.76" stroke="#a6a6a6" stroke-width="1.7" stroke-dasharray="3.4 5" fill="none"/>
<g clip-path="url(#clipd)" fill="none" stroke-width="6" stroke-linejoin="round" stroke-linecap="round">
<path d="M1338.4,1317.95 C1338.78,1323.3 1339.12,1342.6 1340.7,1350.06 C1342.28,1357.51 1345.17,1357.28 1347.87,1362.67 C1350.57,1368.06 1353.89,1375.85 1356.88,1382.42 C1359.87,1388.98 1362.53,1395.47 1365.82,1402.03 C1369.11,1408.6 1372.73,1414.9 1376.61,1421.78 C1380.49,1428.66 1384.33,1436.14 1389.1,1443.31 C1393.87,1450.49 1399.55,1458.88 1405.21,1464.84 C1410.88,1470.81 1418.32,1475.84 1423.1,1479.11 C1427.88,1482.38 1430,1480.58 1433.88,1484.46 C1437.76,1488.35 1442.21,1498.56 1446.38,1502.43 C1450.54,1506.29 1454.98,1506.78 1458.87,1507.65 C1462.76,1508.52 1465.83,1510.03 1469.72,1507.65 C1473.61,1505.27 1477.15,1497.25 1482.22,1493.38 C1487.28,1489.52 1494.14,1486.84 1500.1,1484.46 C1506.07,1482.08 1512.61,1480.3 1517.99,1479.11 C1523.37,1477.92 1527.91,1476.44 1532.39,1477.33 C1536.87,1478.22 1539.82,1482.38 1544.89,1484.46 C1549.95,1486.54 1556.8,1488.33 1562.77,1489.81 C1568.75,1491.3 1574.75,1492.64 1580.73,1493.38 C1586.7,1494.12 1592.65,1494.57 1598.61,1494.27 C1604.57,1493.98 1610.55,1492.64 1616.5,1491.6 C1622.45,1490.56 1628.39,1489.81 1634.32,1488.03 C1640.25,1486.25 1648.46,1485.14 1652.08,1480.9 C1655.69,1476.65 1654.6,1468.81 1656.02,1462.55 C1657.45,1456.29 1658.82,1442.04 1660.62,1443.31 C1662.43,1444.59 1664.65,1461.23 1666.87,1470.19 C1669.1,1479.15 1671.43,1490.83 1673.97,1497.08 C1676.52,1503.32 1679.44,1509.16 1682.13,1507.65 C1684.81,1506.14 1687.55,1495.76 1690.08,1488.03 C1692.62,1480.3 1694.92,1467.84 1697.32,1461.28 C1699.72,1454.71 1702.11,1449.28 1704.49,1448.66 C1706.86,1448.05 1708.6,1459.09 1711.59,1457.58 C1714.58,1456.07 1718.84,1440.51 1722.44,1439.62 C1726.03,1438.73 1728.99,1447.13 1733.16,1452.23 C1737.32,1457.33 1742.06,1464.52 1747.43,1470.19 C1752.8,1475.86 1759.4,1481.77 1765.38,1486.25 C1771.36,1490.73 1777.36,1494.08 1783.33,1497.08 C1789.31,1500.07 1795.26,1503.02 1801.22,1504.21 C1807.18,1505.4 1813.14,1505.4 1819.11,1504.21 C1825.07,1503.02 1832.22,1499.77 1836.99,1497.08 C1841.76,1494.38 1844.73,1491.62 1847.71,1488.03 C1850.69,1484.44 1850.69,1479.41 1854.88,1475.54 C1859.07,1471.68 1866.86,1465.74 1872.83,1464.84 C1878.8,1463.95 1884.76,1468.11 1890.72,1470.19 C1896.68,1472.27 1902.64,1475.25 1908.6,1477.33 C1914.57,1479.41 1920.53,1481.79 1926.49,1482.68 C1932.45,1483.57 1938.71,1484.17 1944.38,1482.68 C1950.04,1481.19 1956,1478.84 1960.49,1473.76 C1964.98,1468.69 1968.34,1463.29 1971.34,1452.23 C1974.34,1441.17 1976.43,1423.8 1978.51,1407.39 C1980.59,1390.97 1982.34,1371.65 1983.83,1353.75 C1985.32,1335.85 1986.41,1329.63 1987.45,1299.99 C1988.49,1270.35 1989.37,1228.43 1990.08,1175.9 C1990.79,1123.37 1991.43,1020.9 1991.73,984.8 C1992.02,948.7 1991.84,963.57 1991.86,959.32" stroke="#0000FF"/>
<path d="M1338.4,1325.48 1338.74,1331.42 1339.07,1337.35 1339.41,1343.29 1339.75,1349.23 1340.08,1355.17 1341.61,1360.74 1343.98,1366.11 1346.32,1371.51 1348.4,1377.04 1350.7,1382.48 1353.4,1387.77 1356.1,1393.05 1358.8,1398.34 1361.73,1403.42 1364.69,1408.5 1367.91,1413.45 1371.12,1418.39 1374.34,1423.34 1377.59,1428.27 1380.9,1433.16 1384.22,1438.05 1387.54,1442.94 1390.93,1447.79 1394.67,1452.4 1398.5,1456.9 1402.34,1461.41 1406.18,1465.91 1410.56,1469.88 1415.22,1473.58 1420.01,1477.09 1424.79,1480.6 1430.02,1483.42 1435.29,1486.16 1439.42,1490.16 1443.39,1494.31 1447.37,1498.47 1451.76,1502.04 1457.32,1504.11 1462.89,1506.19 1467.55,1505.85 1472.21,1505.52 1476.4,1504.15 1479.99,1501.4 1483.58,1498.63 1487.16,1495.86 1490.72,1493 1494.97,1491.03 1499.23,1489.05 1503.47,1487.04 1507.67,1484.94 1511.93,1482.99 1516.33,1481.39 1520.78,1479.89 1525.23,1478.41 1529.68,1476.93 1534.29,1476.12 1538.94,1475.49 1543.6,1474.86 1549.55,1476.14 1553.19,1477.73 1556.84,1479.32 1560.64,1480.55 1564.57,1481.5 1568.5,1482.49 1572.44,1483.48 1576.39,1484.44 1580.4,1485.15 1584.42,1485.86 1588.44,1486.52 1592.47,1487.18 1596.54,1487.52 1600.62,1487.75 1604.7,1487.97 1608.79,1488.13 1612.86,1488.03 1616.92,1487.62 1620.98,1487.21 1625.03,1486.77 1629.07,1486.18 1633.1,1485.46 1637.11,1484.75 1641.13,1484.04 1645.14,1483.32 1648.97,1481.97 1652.77,1480.51 1656.56,1479.06 1660.35,1477.6 1663.7,1475.79 1665.46,1472.63 1667.21,1469.49 1668.98,1466.4 1670.75,1463.32 1672.57,1460.25 1674.39,1457.19 1676.21,1454.13 1678.03,1451.08 1679.83,1448.02 1680.62,1450.87 1681.26,1453.69 1681.77,1456.51 1682.15,1459.33 1682.44,1462.17 1682.63,1465.05 1682.76,1467.95 1682.85,1470.9 1682.96,1473.88 1683.06,1476.9 1683.18,1479.96 1683.33,1483.05 1683.52,1486.18 1683.75,1489.36 1684.06,1492.55 1684.75,1495.62 1686.31,1498.32 1688.01,1501.01 1689.85,1503.66 1692.76,1500.84 1694.81,1496.69 1696.95,1492.54 1699.19,1488.4 1701.18,1484.19 1703.1,1479.98 1704.98,1475.75 1706.81,1471.5 1708.66,1467.31 1710.56,1463.19 1713.28,1459.46 1715.95,1455.77 1718.61,1452.68 1721.63,1455.02 1724.56,1457.24 1727.29,1455.04 1730.01,1451.66 1732.65,1448.31 1735.2,1444.96 1740.2,1446.81 1743.95,1450.34 1747.69,1453.87 1751.35,1457.45 1754.79,1461.31 1758.19,1465.19 1761.58,1469.06 1764.95,1472.94 1768.94,1476.12 1772.95,1479.24 1776.95,1482.37 1780.94,1485.5 1784.91,1488.63 1789.33,1491.09 1793.76,1493.52 1798.17,1495.95 1802.64,1498.15 1807.29,1499.95 1812.02,1501.58 1816.71,1502.59 1821.39,1503.48 1826.25,1503.41 1831.1,1502.78 1835.94,1502.11 1840.75,1501.37 1845.16,1499.13 1849.39,1496.67 1853.62,1494.21 1857.48,1491.46 1860.72,1487.75 1863.97,1484.05 1867,1480.15 1869.29,1475.62 1871.43,1471.04 1873.97,1466.83 1877.49,1463.57 1881.04,1460.31 1884.83,1457.16 1888.89,1454.12 1891.98,1455.76 1895.06,1457.4 1898.14,1459.05 1901.23,1460.69 1904.28,1462.37 1907.23,1464.27 1910.18,1466.17 1913.13,1468.08 1916.08,1469.98 1919.04,1471.87 1922.07,1473.52 1925.11,1475.18 1928.22,1476.82 1931.35,1478.44 1934.5,1479.91 1937.75,1480.7 1941,1481.48 1944.52,1481.96 1948.28,1482.17 1961.35,1474.9 1968.48,1463.91 1974.08,1451.46 1976.34,1438 1978.23,1424.44 1980.11,1410.88 1981.62,1397.26 1982.78,1383.61 1983.93,1369.96 1985.07,1356.31 1985.98,1342.64 1986.78,1328.96 1987.59,1315.28 1988.38,1301.6 1988.76,1287.9 1989.02,1274.2 1989.29,1260.5 1989.56,1246.81 1989.83,1233.11 1990.09,1219.41 1990.36,1205.71 1990.62,1192.02 1990.89,1178.33 1991.03,1164.63 1991.14,1150.94 1991.25,1137.25 1991.36,1123.55 1991.48,1109.86 1991.58,1096.17 1991.69,1082.49 1991.8,1068.8 1991.91,1055.11 1992.02,1041.42 1992.13,1027.74 1992.23,1014.05 1992.34,1000.37 1992.45,986.69 1992.52,973 1992.59,959.32" stroke="#7755CC"/>
<path d="M1338.4,1333.54 1338.64,1339.41 1338.87,1345.28 1339.11,1351.15 1339.34,1357.03 1339.58,1362.9 1340.51,1368.56 1342.24,1374.06 1344.03,1379.58 1345.66,1385.18 1347.75,1390.6 1350.67,1395.68 1353.58,1400.76 1356.49,1405.84 1359.91,1410.52 1363.33,1415.18 1366.91,1419.77 1370.49,1424.36 1374.06,1428.95 1377.66,1433.53 1381.29,1438.09 1384.93,1442.65 1388.57,1447.2 1392.24,1451.73 1396.13,1456.12 1400.22,1460.29 1404.3,1464.46 1408.39,1468.63 1412.8,1472.49 1417.41,1476.12 1422.28,1479.38 1427.16,1482.64 1432.29,1485.49 1437.45,1488.3 1442.07,1491.56 1446.63,1494.87 1451.18,1498.19 1456.03,1501 1461.61,1502.81 1467.19,1504.62 1469.74,1504.28 1472.29,1503.93 1474.84,1503.59 1477.39,1503.24 1479.93,1502.9 1484.43,1500.83 1488.85,1498.52 1493.27,1496.22 1497.68,1493.88 1499.84,1492.58 1502.21,1491.55 1504.58,1490.53 1506.95,1489.5 1509.32,1488.47 1511.69,1487.45 1514.02,1486.34 1516.33,1485.18 1518.65,1484.03 1520.96,1482.88 1523.31,1481.81 1525.68,1480.8 1528.05,1479.79 1530.47,1478.88 1532.89,1478 1535.32,1477.12 1537.75,1476.23 1540.17,1475.35 1542.6,1474.47 1545.08,1473.79 1547.64,1473.42 1550.19,1473.05 1552.75,1472.68 1555.31,1472.31 1557.87,1471.94 1560.43,1471.56 1564.05,1472.64 1567.69,1473.71 1571.34,1474.78 1575.1,1475.63 1578.95,1476.31 1582.79,1477.09 1586.64,1477.86 1590.51,1478.61 1594.42,1479.21 1598.34,1479.8 1602.27,1480.3 1606.21,1480.79 1610.18,1481.1 1614.15,1481.34 1618.13,1481.58 1622.11,1481.7 1626.09,1481.67 1630.05,1481.48 1634.02,1481.29 1637.97,1481.06 1641.92,1480.52 1645.84,1479.92 1649.77,1479.32 1653.68,1478.73 1657.59,1478.13 1661.31,1476.83 1665.01,1475.48 1668.71,1474.13 1672.39,1472.79 1675.86,1471.28 1678.53,1469.11 1681.22,1466.99 1683.93,1464.96 1686.64,1462.95 1689.37,1460.95 1692.1,1458.96 1694.81,1456.98 1697.52,1455 1700.2,1453.02 1701.55,1456.39 1702.78,1459.75 1703.9,1463.12 1704.94,1466.51 1705.92,1469.93 1706.9,1473.37 1707.88,1476.86 1709.03,1480.28 1710.21,1483.73 1711.44,1487.22 1713.13,1490.53 1714.54,1492.62 1716.01,1494.7 1717.55,1496.77 1719.43,1493.99 1721.23,1491.22 1722.97,1488.45 1724.65,1485.66 1726.13,1482.81 1727.48,1479.9 1728.46,1476.71 1729.19,1473.31 1729.9,1469.88 1730.63,1466.43 1731.85,1463.14 1733.1,1459.84 1734.42,1456.85 1736.87,1457.5 1739.62,1455.67 1741.81,1452.96 1744.06,1450.25 1746.36,1447.53 1751.79,1449.57 1756.06,1452.97 1760.35,1456.37 1764.6,1459.8 1768.51,1463.72 1772.4,1467.68 1776.31,1471.64 1780.23,1475.6 1784.85,1478.72 1789.52,1481.79 1794.2,1484.86 1798.9,1487.93 1803.61,1491.01 1808.72,1493.42 1813.86,1495.82 1819.01,1498.22 1824.31,1500.14 1829.76,1501.73 1835.28,1503.21 1840.73,1503.37 1846.18,1503.21 1851.74,1502.46 1857.18,1501.05 1862.56,1499.5 1867.94,1497.89 1872.78,1495.02 1877.17,1491.6 1881.56,1488.17 1885.14,1484.2 1888.17,1479.57 1891.19,1474.94 1894.06,1470.2 1896.48,1465.1 1898.5,1459.87 1900.72,1454.86 1903.46,1450.37 1906.17,1445.88 1909.44,1441.68 1913.34,1437.8 1915.54,1440.28 1917.75,1442.75 1919.96,1445.23 1922.16,1447.71 1924.32,1450.21 1926.36,1452.86 1928.4,1455.51 1930.44,1458.16 1932.48,1460.8 1934.52,1463.44 1936.61,1465.95 1938.69,1468.47 1940.96,1470.92 1943.28,1473.35 1945.62,1475.7 1948.01,1477.68 1950.4,1479.65 1953.45,1480.87 1957.11,1481.39 1968.87,1473.2 1974.39,1461.29 1979.09,1448.59 1980.9,1435.16 1982.33,1421.64 1983.77,1408.12 1985,1394.58 1985.84,1381 1986.64,1367.43 1987.44,1353.85 1988.12,1340.26 1988.74,1326.67 1989.35,1313.08 1989.94,1299.49 1990.22,1285.89 1990.44,1272.28 1990.65,1258.67 1990.87,1245.07 1991.09,1231.46 1991.31,1217.86 1991.53,1204.25 1991.74,1190.65 1991.96,1177.04 1992.07,1163.43 1992.16,1149.82 1992.25,1136.22 1992.34,1122.61 1992.43,1109 1992.52,1095.39 1992.61,1081.79 1992.7,1068.18 1992.79,1054.57 1992.88,1040.96 1992.97,1027.36 1993.06,1013.75 1993.15,1000.14 1993.24,986.54 1993.31,972.93 1993.38,959.32" stroke="#FFB088"/>
<path d="M1338.4,1338.92 1338.57,1344.74 1338.74,1350.57 1338.91,1356.4 1339.08,1362.22 1339.25,1368.05 1339.78,1373.77 1341.08,1379.37 1342.5,1384.97 1343.83,1390.61 1345.78,1396.01 1348.84,1400.95 1351.9,1405.9 1354.96,1410.85 1358.69,1415.25 1362.43,1419.63 1366.25,1423.98 1370.07,1428.34 1373.88,1432.69 1377.7,1437.04 1381.55,1441.38 1385.4,1445.71 1389.25,1450.04 1393.12,1454.36 1397.11,1458.6 1401.36,1462.55 1405.61,1466.5 1409.86,1470.45 1414.29,1474.23 1418.87,1477.82 1423.8,1480.91 1428.73,1484 1433.8,1486.87 1438.88,1489.72 1443.84,1492.49 1448.78,1495.24 1453.72,1498 1458.88,1500.3 1464.47,1501.94 1470.05,1503.58 1472.75,1503.11 1475.44,1502.65 1478.14,1502.19 1480.83,1501.72 1483.53,1501.26 1486.08,1500.48 1488.58,1499.52 1491.07,1498.53 1493.56,1497.53 1496.05,1496.54 1498.54,1495.54 1501.03,1494.54 1503.5,1493.49 1505.92,1492.3 1508.45,1491.24 1510.98,1490.19 1513.52,1489.14 1516.05,1488.09 1518.58,1487.04 1521.06,1485.87 1523.51,1484.64 1525.97,1483.42 1528.42,1482.2 1530.89,1481.02 1533.38,1479.87 1535.86,1478.72 1538.41,1477.71 1540.97,1476.74 1543.53,1475.76 1546.09,1474.78 1548.65,1473.81 1551.22,1472.83 1553.82,1472.03 1556.53,1471.62 1559.24,1471.21 1561.96,1470.8 1564.67,1470.39 1567.38,1469.99 1570.09,1469.58 1573.69,1470.31 1577.29,1471.05 1580.88,1471.79 1584.51,1472.43 1588.18,1472.98 1591.82,1473.68 1595.46,1474.37 1599.1,1475.06 1602.76,1475.67 1606.42,1476.28 1610.08,1476.78 1613.75,1477.28 1617.43,1477.69 1621.11,1478.05 1624.79,1478.41 1628.49,1478.62 1632.18,1478.75 1635.86,1478.76 1639.55,1478.78 1643.23,1478.73 1646.91,1478.31 1650.58,1477.85 1654.26,1477.39 1657.93,1476.93 1661.6,1476.45 1665.11,1475.25 1668.61,1474 1672.11,1472.76 1675.61,1471.51 1678.96,1470.13 1681.72,1468.25 1684.5,1466.4 1687.3,1464.63 1690.1,1462.87 1692.93,1461.1 1695.76,1459.33 1698.59,1457.56 1701.43,1455.79 1704.27,1454.01 1705.72,1457.22 1707.16,1460.43 1708.6,1463.63 1710.05,1466.84 1711.49,1470.05 1712.97,1473.25 1714.45,1476.44 1716.12,1479.51 1717.79,1482.58 1719.47,1485.65 1721.39,1488.6 1723.53,1491.44 1725.68,1494.27 1727.61,1491.89 1729.53,1489.5 1731.45,1487.11 1733.36,1484.73 1735.17,1482.3 1736.93,1479.86 1738.25,1477.11 1739.27,1474.12 1740.29,1471.14 1741.32,1468.16 1742.64,1465.28 1743.95,1462.41 1745.29,1459.73 1747.52,1458.55 1750.16,1456.21 1752.43,1454.14 1754.72,1452.06 1757.01,1449.99 1762.87,1452.21 1767.59,1455.47 1772.32,1458.72 1777.04,1462 1781.26,1465.95 1785.45,1469.96 1789.65,1473.97 1793.85,1477.98 1798.8,1481 1803.79,1483.98 1808.79,1486.97 1813.79,1489.95 1818.8,1492.93 1824.16,1495.28 1829.53,1497.62 1834.91,1499.95 1840.49,1501.63 1846.18,1503.03 1851.89,1504.38 1857.53,1503.91 1863.15,1503.03 1868.83,1501.83 1874.31,1499.92 1879.71,1497.82 1885.11,1495.69 1889.9,1492.48 1894.11,1488.51 1898.31,1484.54 1901.46,1479.91 1904.14,1474.82 1906.8,1469.72 1909.39,1464.56 1911.73,1459.2 1913.54,1453.68 1915.46,1448.26 1917.67,1443.14 1919.86,1438.02 1922.81,1433.26 1926.61,1428.94 1928.34,1431.87 1930.07,1434.8 1931.8,1437.73 1933.53,1440.66 1935.19,1443.62 1936.74,1446.67 1938.29,1449.72 1939.83,1452.77 1941.38,1455.82 1942.93,1458.87 1944.5,1461.84 1946.07,1464.82 1947.88,1467.72 1949.76,1470.59 1951.66,1473.42 1953.58,1476.04 1955.5,1478.66 1958.3,1480.28 1961.91,1480.97 1972.95,1472.27 1977.61,1459.87 1981.81,1447.02 1983.39,1433.6 1984.58,1420.11 1985.78,1406.61 1986.87,1393.09 1987.54,1379.56 1988.16,1366.01 1988.78,1352.47 1989.33,1338.93 1989.84,1325.38 1990.36,1311.83 1990.84,1298.28 1991.07,1284.72 1991.26,1271.16 1991.46,1257.6 1991.65,1244.04 1991.85,1230.48 1992.04,1216.92 1992.23,1203.36 1992.43,1189.8 1992.62,1176.25 1992.71,1162.69 1992.79,1149.13 1992.87,1135.57 1992.96,1122.01 1993.04,1108.45 1993.12,1094.89 1993.2,1081.34 1993.28,1067.78 1993.36,1054.22 1993.44,1040.66 1993.52,1027.11 1993.61,1013.55 1993.69,999.99 1993.77,986.43 1993.84,972.88 1993.91,959.32" stroke="#EE5A40"/>
<path d="M1338.4,1344.83 C1338.5,1350.8 1338.31,1371.4 1338.99,1380.63 C1339.67,1389.87 1340.09,1394.28 1342.48,1400.25 C1344.87,1406.22 1349.44,1411.65 1353.33,1416.43 C1357.22,1421.21 1361.35,1424.44 1365.82,1428.92 C1370.29,1433.4 1374.78,1437.92 1380.16,1443.31 C1385.54,1448.71 1391.56,1455.31 1398.11,1461.28 C1404.66,1467.24 1412.34,1474.06 1419.48,1479.11 C1426.63,1484.17 1434.42,1488.33 1440.99,1491.6 C1447.55,1494.87 1453.5,1496.93 1458.87,1498.73 C1464.24,1500.54 1467.86,1502.43 1473.21,1502.43 C1478.56,1502.43 1484.98,1500.24 1490.96,1498.73 C1496.95,1497.22 1503.11,1495.46 1509.11,1493.38 C1515.12,1491.3 1521.04,1488.92 1527,1486.25 C1532.96,1483.57 1538.92,1480 1544.89,1477.33 C1550.85,1474.65 1556.8,1471.85 1562.77,1470.19 C1568.75,1468.54 1574.75,1467.56 1580.73,1467.39 C1586.7,1467.22 1592.65,1468.43 1598.61,1469.17 C1604.57,1469.92 1610.55,1471.09 1616.5,1471.85 C1622.45,1472.61 1628.39,1473.29 1634.32,1473.76 C1640.25,1474.23 1646.05,1474.82 1652.08,1474.65 C1658.1,1474.48 1663.55,1474.38 1670.49,1472.74 C1677.43,1471.11 1685.65,1467.37 1693.7,1464.84 C1701.76,1462.32 1712.85,1455.8 1718.82,1457.58 C1724.79,1459.37 1725.98,1470.17 1729.54,1475.54 C1733.1,1480.92 1736.31,1489.22 1740.19,1489.81 C1744.07,1490.41 1749.22,1484.48 1752.82,1479.11 C1756.41,1473.74 1758.78,1462.06 1761.76,1457.58 C1764.74,1453.1 1765.64,1451.02 1770.71,1452.23 C1775.77,1453.44 1785.58,1460.07 1792.14,1464.84 C1798.71,1469.62 1802.62,1475.82 1810.1,1480.9 C1817.57,1485.97 1829.53,1491.7 1836.99,1495.29 C1844.46,1498.88 1848.91,1500.64 1854.88,1502.43 C1860.85,1504.21 1866.86,1506.29 1872.83,1505.99 C1878.8,1505.7 1884.76,1503.04 1890.72,1500.64 C1896.68,1498.24 1903.83,1495.19 1908.6,1491.6 C1913.38,1488.01 1915.81,1485.67 1919.39,1479.11 C1922.97,1472.55 1927.13,1461.19 1930.11,1452.23 C1933.09,1443.27 1935.18,1431.02 1937.28,1425.35 C1939.37,1419.68 1940.88,1416.73 1942.67,1418.21 C1944.46,1419.7 1945.9,1427.09 1948,1434.27 C1950.09,1441.44 1952.84,1453.8 1955.23,1461.28 C1957.62,1468.75 1959.95,1475.84 1962.33,1479.11 C1964.71,1482.38 1967.11,1481.49 1969.5,1480.9 C1971.89,1480.3 1973.98,1481.81 1976.67,1475.54 C1979.35,1469.28 1983.52,1457.65 1985.61,1443.31 C1987.7,1428.98 1988.19,1413.44 1989.23,1389.55 C1990.27,1365.66 1991.17,1335.6 1991.86,1299.99 C1992.55,1264.38 1992.95,1228.43 1993.37,1175.9 C1993.79,1123.37 1994.17,1020.9 1994.36,984.8 C1994.54,948.7 1994.47,963.57 1994.49,959.32" stroke="#CC0000"/>
</g>
<rect x="1557.3" y="1027.4" width="243.9" height="186.7" fill="#000"/>
<rect x="1548.3" y="1018.4" width="243.9" height="186.7" fill="#fff" stroke="#777" stroke-width="1.5"/>
<path d="M1552.7,1038.7 H1618.5" stroke="#0000FF" stroke-width="6" stroke-linecap="round"/>
<text transform="matrix(1,0,0,1.04,1626.8,1049.5)" font-size="30">Formation</text>
<path d="M1552.7,1075.6 H1618.5" stroke="#7755CC" stroke-width="6" stroke-linecap="round"/>
<text transform="matrix(1,0,0,1.04,1626.8,1086.4)" font-size="30">1. Check-up</text>
<path d="M1552.7,1112.5 H1618.5" stroke="#FFB088" stroke-width="6" stroke-linecap="round"/>
<text transform="matrix(1,0,0,1.04,1626.8,1123.3)" font-size="30">2. Check-up</text>
<path d="M1552.7,1149.4 H1618.5" stroke="#EE5A40" stroke-width="6" stroke-linecap="round"/>
<text transform="matrix(1,0,0,1.04,1626.8,1160.2)" font-size="30">3. Check-up</text>
<path d="M1552.7,1186.3 H1618.5" stroke="#CC0000" stroke-width="6" stroke-linecap="round"/>
<text transform="matrix(1,0,0,1.04,1626.8,1197.1)" font-size="30">4. Check-up</text>
<text transform="matrix(1,0,0,1.04,1518.5,1410.6)" font-size="48">S<tspan dy="8.17">2</tspan></text>
<text transform="matrix(1,0,0,1.04,1644.1,1405.3)" font-size="48">S<tspan dy="8.08">1</tspan></text>
<text transform="matrix(1,0,0,1.04,1687.8,1363.3)" font-size="48">G<tspan dy="9.71">2</tspan></text>
<text transform="matrix(1,0,0,1.04,1859.8,1358.8)" font-size="48">G<tspan dy="9.71">1</tspan></text>
<text transform="matrix(1,0,0,1.04,1578.8,1586.3)" font-size="48">Q<tspan dy="8.65">1</tspan></text>
<text transform="matrix(1,0,0,1.04,1897.9,1580.9)" font-size="48">Q<tspan dy="8.65">2</tspan></text>
<path d="M1523.4,1442.4 H1589.3" stroke="#000" stroke-width="6.2" fill="none"/>
<path d="M1573.7,1426.6 L1589.3,1442.4 L1573.7,1458.2" stroke="#000" stroke-width="6.2" fill="none" stroke-linecap="round" stroke-linejoin="miter" stroke-miterlimit="8"/>
<path d="M1655.2,1426.3 H1719.3" stroke="#000" stroke-width="6.2" fill="none"/>
<path d="M1703.7,1410.5 L1719.3,1426.3 L1703.7,1442.1" stroke="#000" stroke-width="6.2" fill="none" stroke-linecap="round" stroke-linejoin="miter" stroke-miterlimit="8"/>
<path d="M1711.6,1401.2 H1764" stroke="#000" stroke-width="6.2" fill="none"/>
<path d="M1748.4,1385.4 L1764,1401.2 L1748.4,1417" stroke="#000" stroke-width="6.2" fill="none" stroke-linecap="round" stroke-linejoin="miter" stroke-miterlimit="8"/>
<path d="M1864.7,1389.5 H1941.3" stroke="#000" stroke-width="6.2" fill="none"/>
<path d="M1925.7,1373.7 L1941.3,1389.5 L1925.7,1405.3" stroke="#000" stroke-width="6.2" fill="none" stroke-linecap="round" stroke-linejoin="miter" stroke-miterlimit="8"/>
<path d="M1875.6,1467.4 V1616" stroke="#000" stroke-width="5.9" stroke-dasharray="11.4 6.9"/>
<path d="M1358.4,1601.9 H1855 M1895,1601.9 H1979.3" stroke="#000" stroke-width="5.4"/>
<path d="M1337.4,1601.9 L1379.9,1586.2 Q1369.5,1601.9 1379.9,1617.6 Z M1875,1601.9 L1832.5,1586.2 Q1842.9,1601.9 1832.5,1617.6 Z M1875,1601.9 L1911.5,1587.9 Q1901.1,1601.9 1911.5,1615.9 Z M1999.3,1601.9 L1962.8,1587.9 Q1973.2,1601.9 1962.8,1615.9 Z" fill="#000"/>
<rect x="1272.64" y="984.8" width="789.12" height="637" fill="none" stroke="#000" stroke-width="4.4"/>
<path d="M1272.64,1621.8 V1628.3 M1338.4,1621.8 V1634.3 M1404.16,1621.8 V1628.3 M1469.92,1621.8 V1634.3 M1535.68,1621.8 V1628.3 M1601.44,1621.8 V1634.3 M1667.2,1621.8 V1628.3 M1732.96,1621.8 V1634.3 M1798.72,1621.8 V1628.3 M1864.48,1621.8 V1634.3 M1930.24,1621.8 V1628.3 M1996,1621.8 V1634.3 M2061.76,1621.8 V1628.3 M1272.64,1621.8 H1260.14 M1272.64,1558.1 H1266.14 M1272.64,1494.4 H1260.14 M1272.64,1430.7 H1266.14 M1272.64,1367 H1260.14 M1272.64,1303.3 H1266.14 M1272.64,1239.6 H1260.14 M1272.64,1175.9 H1266.14 M1272.64,1112.2 H1260.14 M1272.64,1048.5 H1266.14 M1272.64,984.8 H1260.14" stroke="#000" stroke-width="4.2"/>
<text transform="matrix(1,0,0,1.04,1338.4,1675.8)" font-size="42" text-anchor="middle">0</text>
<text transform="matrix(1,0,0,1.04,1469.92,1675.8)" font-size="42" text-anchor="middle">20</text>
<text transform="matrix(1,0,0,1.04,1601.44,1675.8)" font-size="42" text-anchor="middle">40</text>
<text transform="matrix(1,0,0,1.04,1732.96,1675.8)" font-size="42" text-anchor="middle">60</text>
<text transform="matrix(1,0,0,1.04,1864.48,1675.8)" font-size="42" text-anchor="middle">80</text>
<text transform="matrix(1,0,0,1.04,1996,1675.8)" font-size="42" text-anchor="middle">100</text>
<text transform="matrix(1,0,0,1.04,1250.64,1635.1)" font-size="42" text-anchor="end">0.00</text>
<text transform="matrix(1,0,0,1.04,1250.64,1507.7)" font-size="42" text-anchor="end">-0.01</text>
<text transform="matrix(1,0,0,1.04,1250.64,1380.3)" font-size="42" text-anchor="end">-0.02</text>
<text transform="matrix(1,0,0,1.04,1250.64,1252.9)" font-size="42" text-anchor="end">-0.03</text>
<text transform="matrix(1,0,0,1.04,1250.64,1125.5)" font-size="42" text-anchor="end">-0.04</text>
<text transform="matrix(1,0,0,1.04,1250.64,998.1)" font-size="42" text-anchor="end">-0.05</text>
<text transform="matrix(1,0,0,1.04,1666.4,1753.3)" font-size="54.2" text-anchor="middle">SoC / %</text>
<text transform="translate(1137.34,1305.5) rotate(-90) scale(1,1.04)" font-size="54.3" text-anchor="middle">Differential Voltage / V Ah<tspan font-size="35.5" dy="-21.44">-1</tspan></text>
<text transform="matrix(1,0,0,1.04,1065.5,937)" font-size="55">d<tspan dx="3.8">)</tspan></text>
</svg></body></html>
